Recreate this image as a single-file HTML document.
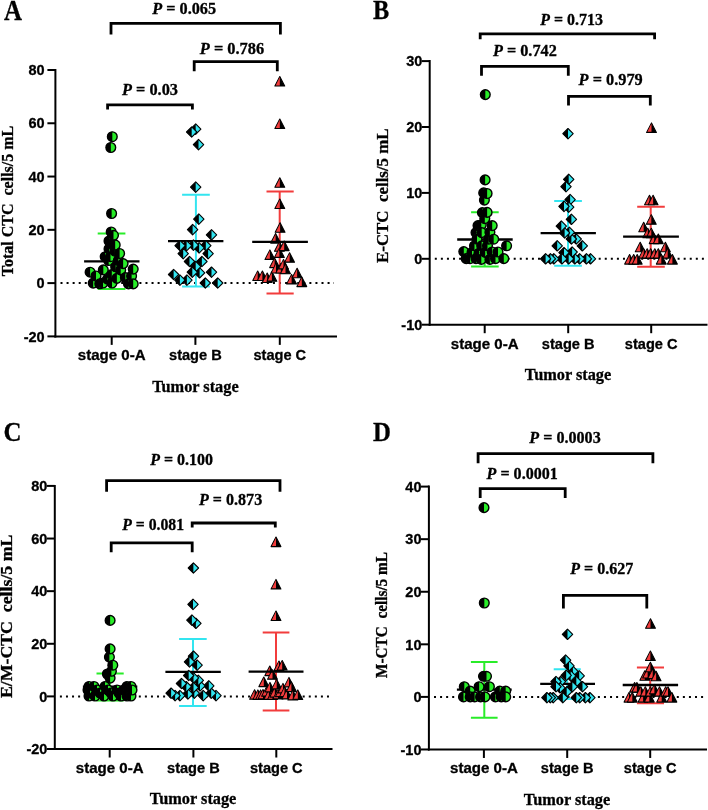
<!DOCTYPE html>
<html><head><meta charset="utf-8"><style>
html,body{margin:0;padding:0;background:#fff;width:708px;height:810px;overflow:hidden}
svg{display:block;will-change:transform}
text{stroke:#000;stroke-width:0.3px;paint-order:stroke}
</style></head><body>
<svg width="708" height="810" viewBox="0 0 708 810">
<rect width="708" height="810" fill="#fff"/>
<line x1="55.4" y1="68.98" x2="55.4" y2="337.38" stroke="#000" stroke-width="2.0"/>
<line x1="47.4" y1="69.98" x2="55.4" y2="69.98" stroke="#000" stroke-width="2.0"/>
<text x="44.7" y="75.18" font-family="Liberation Sans" font-size="14.5" font-weight="bold" text-anchor="end" >80</text>
<line x1="47.4" y1="123.26" x2="55.4" y2="123.26" stroke="#000" stroke-width="2.0"/>
<text x="44.7" y="128.46" font-family="Liberation Sans" font-size="14.5" font-weight="bold" text-anchor="end" >60</text>
<line x1="47.4" y1="176.54" x2="55.4" y2="176.54" stroke="#000" stroke-width="2.0"/>
<text x="44.7" y="181.74" font-family="Liberation Sans" font-size="14.5" font-weight="bold" text-anchor="end" >40</text>
<line x1="47.4" y1="229.82" x2="55.4" y2="229.82" stroke="#000" stroke-width="2.0"/>
<text x="44.7" y="235.02" font-family="Liberation Sans" font-size="14.5" font-weight="bold" text-anchor="end" >20</text>
<line x1="47.4" y1="283.1" x2="55.4" y2="283.1" stroke="#000" stroke-width="2.0"/>
<text x="44.7" y="288.3" font-family="Liberation Sans" font-size="14.5" font-weight="bold" text-anchor="end" >0</text>
<line x1="47.4" y1="336.38" x2="55.4" y2="336.38" stroke="#000" stroke-width="2.0"/>
<text x="44.7" y="341.58" font-family="Liberation Sans" font-size="14.5" font-weight="bold" text-anchor="end" >-20</text>
<line x1="54.4" y1="336.38" x2="337" y2="336.38" stroke="#000" stroke-width="2.0"/>
<line x1="111.7" y1="336.38" x2="111.7" y2="344.88" stroke="#000" stroke-width="2.0"/>
<text x="111.7" y="360.3" font-family="Liberation Sans" font-size="14.3" font-weight="bold" text-anchor="middle" textLength="67.8" lengthAdjust="spacingAndGlyphs" >stage 0-A</text>
<line x1="195.4" y1="336.38" x2="195.4" y2="344.88" stroke="#000" stroke-width="2.0"/>
<text x="195.4" y="360.3" font-family="Liberation Sans" font-size="14.3" font-weight="bold" text-anchor="middle" textLength="52.8" lengthAdjust="spacingAndGlyphs" >stage B</text>
<line x1="279.8" y1="336.38" x2="279.8" y2="344.88" stroke="#000" stroke-width="2.0"/>
<text x="279.8" y="360.3" font-family="Liberation Sans" font-size="14.3" font-weight="bold" text-anchor="middle" textLength="52.7" lengthAdjust="spacingAndGlyphs" >stage C</text>
<line x1="60.5" y1="283.1" x2="334" y2="283.1" stroke="#000" stroke-width="2" stroke-dasharray="2 4.07"/>
<text x="195.4" y="391.8" font-family="Liberation Serif" font-size="16.3" font-weight="bold" text-anchor="middle" textLength="86.5" lengthAdjust="spacingAndGlyphs" >Tumor stage</text>
<text x="0" y="0" transform="translate(12.9,201) rotate(-90)" font-family="Liberation Serif" font-size="16.3" font-weight="bold" text-anchor="middle" textLength="150.6" lengthAdjust="spacingAndGlyphs" xml:space="preserve">Total CTC  cells/5 mL</text>
<text x="4" y="19.7" font-family="Liberation Serif" font-size="28.5" font-weight="bold" textLength="18" lengthAdjust="spacingAndGlyphs">A</text>
<path d="M111,34.6 V23.3 H280.4 V34.6" fill="none" stroke="#000" stroke-width="2.8" stroke-linecap="butt" stroke-linejoin="miter"/>
<text x="152.3" y="13.7" font-family="Liberation Serif" font-size="16.3" font-weight="bold" textLength="63.8" lengthAdjust="spacingAndGlyphs" xml:space="preserve"><tspan font-style="italic">P</tspan> = 0.065</text>
<path d="M194.2,71.3 V61.7 H277.3 V71.3" fill="none" stroke="#000" stroke-width="2.8" stroke-linecap="butt" stroke-linejoin="miter"/>
<text x="199.8" y="53.7" font-family="Liberation Serif" font-size="16.3" font-weight="bold" textLength="64.4" lengthAdjust="spacingAndGlyphs" xml:space="preserve"><tspan font-style="italic">P</tspan> = 0.786</text>
<path d="M107.6,109.5 V104.9 H192.4 V109.5" fill="none" stroke="#000" stroke-width="2.8" stroke-linecap="butt" stroke-linejoin="miter"/>
<text x="122" y="94.6" font-family="Liberation Serif" font-size="16.3" font-weight="bold" textLength="56" lengthAdjust="spacingAndGlyphs" xml:space="preserve"><tspan font-style="italic">P</tspan> = 0.03</text>
<line x1="429.7" y1="60.10" x2="429.7" y2="325.70" stroke="#000" stroke-width="2.0"/>
<line x1="421.7" y1="61.10" x2="429.7" y2="61.10" stroke="#000" stroke-width="2.0"/>
<text x="422.3" y="66.30" font-family="Liberation Sans" font-size="14.5" font-weight="bold" text-anchor="end" >30</text>
<line x1="421.7" y1="127.0" x2="429.7" y2="127.0" stroke="#000" stroke-width="2.0"/>
<text x="422.3" y="132.2" font-family="Liberation Sans" font-size="14.5" font-weight="bold" text-anchor="end" >20</text>
<line x1="421.7" y1="192.9" x2="429.7" y2="192.9" stroke="#000" stroke-width="2.0"/>
<text x="422.3" y="198.1" font-family="Liberation Sans" font-size="14.5" font-weight="bold" text-anchor="end" >10</text>
<line x1="421.7" y1="258.8" x2="429.7" y2="258.8" stroke="#000" stroke-width="2.0"/>
<text x="422.3" y="264.0" font-family="Liberation Sans" font-size="14.5" font-weight="bold" text-anchor="end" >0</text>
<line x1="421.7" y1="324.70" x2="429.7" y2="324.70" stroke="#000" stroke-width="2.0"/>
<text x="422.3" y="329.90" font-family="Liberation Sans" font-size="14.5" font-weight="bold" text-anchor="end" >-10</text>
<line x1="428.7" y1="324.70" x2="707.5" y2="324.70" stroke="#000" stroke-width="2.0"/>
<line x1="484.7" y1="324.70" x2="484.7" y2="333.20" stroke="#000" stroke-width="2.0"/>
<text x="484.7" y="349.2" font-family="Liberation Sans" font-size="14.3" font-weight="bold" text-anchor="middle" textLength="67.8" lengthAdjust="spacingAndGlyphs" >stage 0-A</text>
<line x1="568.2" y1="324.70" x2="568.2" y2="333.20" stroke="#000" stroke-width="2.0"/>
<text x="568.2" y="349.2" font-family="Liberation Sans" font-size="14.3" font-weight="bold" text-anchor="middle" textLength="52.8" lengthAdjust="spacingAndGlyphs" >stage B</text>
<line x1="651.2" y1="324.70" x2="651.2" y2="333.20" stroke="#000" stroke-width="2.0"/>
<text x="651.2" y="349.2" font-family="Liberation Sans" font-size="14.3" font-weight="bold" text-anchor="middle" textLength="52.7" lengthAdjust="spacingAndGlyphs" >stage C</text>
<line x1="434.8" y1="258.8" x2="704.5" y2="258.8" stroke="#000" stroke-width="2" stroke-dasharray="2 4.07"/>
<text x="568" y="380.2" font-family="Liberation Serif" font-size="16.3" font-weight="bold" text-anchor="middle" textLength="86.5" lengthAdjust="spacingAndGlyphs" >Tumor stage</text>
<text x="0" y="0" transform="translate(387.7,195.7) rotate(-90)" font-family="Liberation Serif" font-size="16.3" font-weight="bold" text-anchor="middle" textLength="134.6" lengthAdjust="spacingAndGlyphs" xml:space="preserve">E-CTC  cells/5 mL</text>
<text x="373.1" y="19.1" font-family="Liberation Serif" font-size="27" font-weight="bold" textLength="16.2" lengthAdjust="spacingAndGlyphs">B</text>
<path d="M480.2,39.3 V33.9 H654.6 V39.3" fill="none" stroke="#000" stroke-width="2.8" stroke-linecap="butt" stroke-linejoin="miter"/>
<text x="540.3" y="25.4" font-family="Liberation Serif" font-size="16.3" font-weight="bold" textLength="62.6" lengthAdjust="spacingAndGlyphs" xml:space="preserve"><tspan font-style="italic">P</tspan> = 0.713</text>
<path d="M481.5,75.8 V66.4 H568.3 V75.8" fill="none" stroke="#000" stroke-width="2.8" stroke-linecap="butt" stroke-linejoin="miter"/>
<text x="492.9" y="55.9" font-family="Liberation Serif" font-size="16.3" font-weight="bold" textLength="63.9" lengthAdjust="spacingAndGlyphs" xml:space="preserve"><tspan font-style="italic">P</tspan> = 0.742</text>
<path d="M568.5,105.4 V96.4 H650.3 V105.4" fill="none" stroke="#000" stroke-width="2.8" stroke-linecap="butt" stroke-linejoin="miter"/>
<text x="578.6" y="85.1" font-family="Liberation Serif" font-size="16.3" font-weight="bold" textLength="64.1" lengthAdjust="spacingAndGlyphs" xml:space="preserve"><tspan font-style="italic">P</tspan> = 0.979</text>
<line x1="54.8" y1="484.91" x2="54.8" y2="750.02" stroke="#000" stroke-width="2.0"/>
<line x1="46.8" y1="485.91" x2="54.8" y2="485.91" stroke="#000" stroke-width="2.0"/>
<text x="47.4" y="491.11" font-family="Liberation Sans" font-size="14.5" font-weight="bold" text-anchor="end" >80</text>
<line x1="46.8" y1="538.54" x2="54.8" y2="538.54" stroke="#000" stroke-width="2.0"/>
<text x="47.4" y="543.74" font-family="Liberation Sans" font-size="14.5" font-weight="bold" text-anchor="end" >60</text>
<line x1="46.8" y1="591.16" x2="54.8" y2="591.16" stroke="#000" stroke-width="2.0"/>
<text x="47.4" y="596.36" font-family="Liberation Sans" font-size="14.5" font-weight="bold" text-anchor="end" >40</text>
<line x1="46.8" y1="643.78" x2="54.8" y2="643.78" stroke="#000" stroke-width="2.0"/>
<text x="47.4" y="648.98" font-family="Liberation Sans" font-size="14.5" font-weight="bold" text-anchor="end" >20</text>
<line x1="46.8" y1="696.4" x2="54.8" y2="696.4" stroke="#000" stroke-width="2.0"/>
<text x="47.4" y="701.6" font-family="Liberation Sans" font-size="14.5" font-weight="bold" text-anchor="end" >0</text>
<line x1="46.8" y1="749.02" x2="54.8" y2="749.02" stroke="#000" stroke-width="2.0"/>
<text x="47.4" y="754.22" font-family="Liberation Sans" font-size="14.5" font-weight="bold" text-anchor="end" >-20</text>
<line x1="53.8" y1="749.02" x2="332.5" y2="749.02" stroke="#000" stroke-width="2.0"/>
<line x1="109.7" y1="749.02" x2="109.7" y2="757.52" stroke="#000" stroke-width="2.0"/>
<text x="109.7" y="772.7" font-family="Liberation Sans" font-size="14.3" font-weight="bold" text-anchor="middle" textLength="67.8" lengthAdjust="spacingAndGlyphs" >stage 0-A</text>
<line x1="193.4" y1="749.02" x2="193.4" y2="757.52" stroke="#000" stroke-width="2.0"/>
<text x="193.4" y="772.7" font-family="Liberation Sans" font-size="14.3" font-weight="bold" text-anchor="middle" textLength="52.8" lengthAdjust="spacingAndGlyphs" >stage B</text>
<line x1="276.3" y1="749.02" x2="276.3" y2="757.52" stroke="#000" stroke-width="2.0"/>
<text x="276.3" y="772.7" font-family="Liberation Sans" font-size="14.3" font-weight="bold" text-anchor="middle" textLength="52.7" lengthAdjust="spacingAndGlyphs" >stage C</text>
<line x1="59.9" y1="696.4" x2="329.5" y2="696.4" stroke="#000" stroke-width="2" stroke-dasharray="2 4.07"/>
<text x="193.1" y="804.4" font-family="Liberation Serif" font-size="16.3" font-weight="bold" text-anchor="middle" textLength="86.5" lengthAdjust="spacingAndGlyphs" >Tumor stage</text>
<text x="0" y="0" transform="translate(12.3,616.4) rotate(-90)" font-family="Liberation Serif" font-size="16.3" font-weight="bold" text-anchor="middle" textLength="163.4" lengthAdjust="spacingAndGlyphs" xml:space="preserve">E/M-CTC  cells/5 mL</text>
<text x="3.5" y="441.4" font-family="Liberation Serif" font-size="27" font-weight="bold" textLength="18" lengthAdjust="spacingAndGlyphs">C</text>
<path d="M106.6,491.7 V480.7 H280 V491.7" fill="none" stroke="#000" stroke-width="2.8" stroke-linecap="butt" stroke-linejoin="miter"/>
<text x="150.2" y="464.6" font-family="Liberation Serif" font-size="16.3" font-weight="bold" textLength="62.8" lengthAdjust="spacingAndGlyphs" xml:space="preserve"><tspan font-style="italic">P</tspan> = 0.100</text>
<path d="M192.2,527.5 V523 H275.3 V527.5" fill="none" stroke="#000" stroke-width="2.8" stroke-linecap="butt" stroke-linejoin="miter"/>
<text x="199" y="505.3" font-family="Liberation Serif" font-size="16.3" font-weight="bold" textLength="63.2" lengthAdjust="spacingAndGlyphs" xml:space="preserve"><tspan font-style="italic">P</tspan> = 0.873</text>
<path d="M111.2,552.2 V542.9 H192.2 V552.2" fill="none" stroke="#000" stroke-width="2.8" stroke-linecap="butt" stroke-linejoin="miter"/>
<text x="122.2" y="529.8" font-family="Liberation Serif" font-size="16.3" font-weight="bold" textLength="61.9" lengthAdjust="spacingAndGlyphs" xml:space="preserve"><tspan font-style="italic">P</tspan> = 0.081</text>
<line x1="428.9" y1="485.59" x2="428.9" y2="750.47" stroke="#000" stroke-width="2.0"/>
<line x1="420.9" y1="486.59" x2="428.9" y2="486.59" stroke="#000" stroke-width="2.0"/>
<text x="421.5" y="491.79" font-family="Liberation Sans" font-size="14.5" font-weight="bold" text-anchor="end" >40</text>
<line x1="420.9" y1="539.17" x2="428.9" y2="539.17" stroke="#000" stroke-width="2.0"/>
<text x="421.5" y="544.37" font-family="Liberation Sans" font-size="14.5" font-weight="bold" text-anchor="end" >30</text>
<line x1="420.9" y1="591.75" x2="428.9" y2="591.75" stroke="#000" stroke-width="2.0"/>
<text x="421.5" y="596.95" font-family="Liberation Sans" font-size="14.5" font-weight="bold" text-anchor="end" >20</text>
<line x1="420.9" y1="644.32" x2="428.9" y2="644.32" stroke="#000" stroke-width="2.0"/>
<text x="421.5" y="649.52" font-family="Liberation Sans" font-size="14.5" font-weight="bold" text-anchor="end" >10</text>
<line x1="420.9" y1="696.9" x2="428.9" y2="696.9" stroke="#000" stroke-width="2.0"/>
<text x="421.5" y="702.1" font-family="Liberation Sans" font-size="14.5" font-weight="bold" text-anchor="end" >0</text>
<line x1="420.9" y1="749.47" x2="428.9" y2="749.47" stroke="#000" stroke-width="2.0"/>
<text x="421.5" y="754.67" font-family="Liberation Sans" font-size="14.5" font-weight="bold" text-anchor="end" >-10</text>
<line x1="427.9" y1="749.47" x2="707" y2="749.47" stroke="#000" stroke-width="2.0"/>
<line x1="483.9" y1="749.47" x2="483.9" y2="757.97" stroke="#000" stroke-width="2.0"/>
<text x="483.9" y="773" font-family="Liberation Sans" font-size="14.3" font-weight="bold" text-anchor="middle" textLength="67.8" lengthAdjust="spacingAndGlyphs" >stage 0-A</text>
<line x1="567.2" y1="749.47" x2="567.2" y2="757.97" stroke="#000" stroke-width="2.0"/>
<text x="567.2" y="773" font-family="Liberation Sans" font-size="14.3" font-weight="bold" text-anchor="middle" textLength="52.8" lengthAdjust="spacingAndGlyphs" >stage B</text>
<line x1="650.2" y1="749.47" x2="650.2" y2="757.97" stroke="#000" stroke-width="2.0"/>
<text x="650.2" y="773" font-family="Liberation Sans" font-size="14.3" font-weight="bold" text-anchor="middle" textLength="52.7" lengthAdjust="spacingAndGlyphs" >stage C</text>
<line x1="434.0" y1="696.9" x2="704" y2="696.9" stroke="#000" stroke-width="2" stroke-dasharray="2 4.07"/>
<text x="567" y="805" font-family="Liberation Serif" font-size="16.3" font-weight="bold" text-anchor="middle" textLength="86.5" lengthAdjust="spacingAndGlyphs" >Tumor stage</text>
<text x="0" y="0" transform="translate(387.2,615) rotate(-90)" font-family="Liberation Serif" font-size="16.3" font-weight="bold" text-anchor="middle" textLength="125.9" lengthAdjust="spacingAndGlyphs" xml:space="preserve">M-CTC  cells/5 mL</text>
<text x="373.1" y="441" font-family="Liberation Serif" font-size="27" font-weight="bold" textLength="17.9" lengthAdjust="spacingAndGlyphs">D</text>
<path d="M478.1,463.2 V453.6 H652.9 V463.2" fill="none" stroke="#000" stroke-width="2.8" stroke-linecap="butt" stroke-linejoin="miter"/>
<text x="529.3" y="443.4" font-family="Liberation Serif" font-size="16.3" font-weight="bold" textLength="71.4" lengthAdjust="spacingAndGlyphs" xml:space="preserve"><tspan font-style="italic">P</tspan> = 0.0003</text>
<path d="M480.2,498 V488.6 H565.2 V498" fill="none" stroke="#000" stroke-width="2.8" stroke-linecap="butt" stroke-linejoin="miter"/>
<text x="486.6" y="478.5" font-family="Liberation Serif" font-size="16.3" font-weight="bold" textLength="71.2" lengthAdjust="spacingAndGlyphs" xml:space="preserve"><tspan font-style="italic">P</tspan> = 0.0001</text>
<path d="M563.4,608.5 V595.4 H646.8 V608.5" fill="none" stroke="#000" stroke-width="2.8" stroke-linecap="butt" stroke-linejoin="miter"/>
<text x="570.2" y="574.4" font-family="Liberation Serif" font-size="16.3" font-weight="bold" textLength="63" lengthAdjust="spacingAndGlyphs" xml:space="preserve"><tspan font-style="italic">P</tspan> = 0.627</text>
<path d="M97.7,233.6 H125.4 M111.7,233.6 V289 M97.7,289 H125.4" stroke="#28EC28" stroke-width="2" fill="none"/>
<line x1="84.1" y1="261.3" x2="139.5" y2="261.3" stroke="#000" stroke-width="2.3"/>
<g transform="translate(90.1,272.2)"><circle r="4.85" fill="#28EC28" stroke="#000" stroke-width="1.4"/><path d="M0,-4.9 A4.9,4.9 0 0 0 0,4.9 Z" fill="#000"/></g>
<g transform="translate(93.2,283.1)"><circle r="4.85" fill="#28EC28" stroke="#000" stroke-width="1.4"/><path d="M0,-4.9 A4.9,4.9 0 0 0 0,4.9 Z" fill="#000"/></g>
<g transform="translate(96,276)"><circle r="4.85" fill="#28EC28" stroke="#000" stroke-width="1.4"/><path d="M0,-4.9 A4.9,4.9 0 0 0 0,4.9 Z" fill="#000"/></g>
<g transform="translate(99.8,283.8)"><circle r="4.85" fill="#28EC28" stroke="#000" stroke-width="1.4"/><path d="M0,-4.9 A4.9,4.9 0 0 0 0,4.9 Z" fill="#000"/></g>
<g transform="translate(103,283)"><circle r="4.85" fill="#28EC28" stroke="#000" stroke-width="1.4"/><path d="M0,-4.9 A4.9,4.9 0 0 0 0,4.9 Z" fill="#000"/></g>
<g transform="translate(103.3,269.9)"><circle r="4.85" fill="#28EC28" stroke="#000" stroke-width="1.4"/><path d="M0,-4.9 A4.9,4.9 0 0 0 0,4.9 Z" fill="#000"/></g>
<g transform="translate(105.2,256.7)"><circle r="4.85" fill="#28EC28" stroke="#000" stroke-width="1.4"/><path d="M0,-4.9 A4.9,4.9 0 0 0 0,4.9 Z" fill="#000"/></g>
<g transform="translate(107.5,279.2)"><circle r="4.85" fill="#28EC28" stroke="#000" stroke-width="1.4"/><path d="M0,-4.9 A4.9,4.9 0 0 0 0,4.9 Z" fill="#000"/></g>
<g transform="translate(108.7,260.5)"><circle r="4.85" fill="#28EC28" stroke="#000" stroke-width="1.4"/><path d="M0,-4.9 A4.9,4.9 0 0 0 0,4.9 Z" fill="#000"/></g>
<g transform="translate(109,241)"><circle r="4.85" fill="#28EC28" stroke="#000" stroke-width="1.4"/><path d="M0,-4.9 A4.9,4.9 0 0 0 0,4.9 Z" fill="#000"/></g>
<g transform="translate(109,248.9)"><circle r="4.85" fill="#28EC28" stroke="#000" stroke-width="1.4"/><path d="M0,-4.9 A4.9,4.9 0 0 0 0,4.9 Z" fill="#000"/></g>
<g transform="translate(110.5,256.7)"><circle r="4.85" fill="#28EC28" stroke="#000" stroke-width="1.4"/><path d="M0,-4.9 A4.9,4.9 0 0 0 0,4.9 Z" fill="#000"/></g>
<g transform="translate(110.8,147.5)"><circle r="4.85" fill="#28EC28" stroke="#000" stroke-width="1.4"/><path d="M0,-4.9 A4.9,4.9 0 0 0 0,4.9 Z" fill="#000"/></g>
<g transform="translate(111.2,232)"><circle r="4.85" fill="#28EC28" stroke="#000" stroke-width="1.4"/><path d="M0,-4.9 A4.9,4.9 0 0 0 0,4.9 Z" fill="#000"/></g>
<g transform="translate(111.6,213.5)"><circle r="4.85" fill="#28EC28" stroke="#000" stroke-width="1.4"/><path d="M0,-4.9 A4.9,4.9 0 0 0 0,4.9 Z" fill="#000"/></g>
<g transform="translate(111.8,274.5)"><circle r="4.85" fill="#28EC28" stroke="#000" stroke-width="1.4"/><path d="M0,-4.9 A4.9,4.9 0 0 0 0,4.9 Z" fill="#000"/></g>
<g transform="translate(112,283)"><circle r="4.85" fill="#28EC28" stroke="#000" stroke-width="1.4"/><path d="M0,-4.9 A4.9,4.9 0 0 0 0,4.9 Z" fill="#000"/></g>
<g transform="translate(112.3,136.7)"><circle r="4.85" fill="#28EC28" stroke="#000" stroke-width="1.4"/><path d="M0,-4.9 A4.9,4.9 0 0 0 0,4.9 Z" fill="#000"/></g>
<g transform="translate(113,243.2)"><circle r="4.85" fill="#28EC28" stroke="#000" stroke-width="1.4"/><path d="M0,-4.9 A4.9,4.9 0 0 0 0,4.9 Z" fill="#000"/></g>
<g transform="translate(113.5,235.3)"><circle r="4.85" fill="#28EC28" stroke="#000" stroke-width="1.4"/><path d="M0,-4.9 A4.9,4.9 0 0 0 0,4.9 Z" fill="#000"/></g>
<g transform="translate(113.8,245.5)"><circle r="4.85" fill="#28EC28" stroke="#000" stroke-width="1.4"/><path d="M0,-4.9 A4.9,4.9 0 0 0 0,4.9 Z" fill="#000"/></g>
<g transform="translate(113.8,245)"><circle r="4.85" fill="#28EC28" stroke="#000" stroke-width="1.4"/><path d="M0,-4.9 A4.9,4.9 0 0 0 0,4.9 Z" fill="#000"/></g>
<g transform="translate(114.9,251.2)"><circle r="4.85" fill="#28EC28" stroke="#000" stroke-width="1.4"/><path d="M0,-4.9 A4.9,4.9 0 0 0 0,4.9 Z" fill="#000"/></g>
<g transform="translate(115.2,245)"><circle r="4.85" fill="#28EC28" stroke="#000" stroke-width="1.4"/><path d="M0,-4.9 A4.9,4.9 0 0 0 0,4.9 Z" fill="#000"/></g>
<g transform="translate(115.7,266.8)"><circle r="4.85" fill="#28EC28" stroke="#000" stroke-width="1.4"/><path d="M0,-4.9 A4.9,4.9 0 0 0 0,4.9 Z" fill="#000"/></g>
<g transform="translate(116.9,278.4)"><circle r="4.85" fill="#28EC28" stroke="#000" stroke-width="1.4"/><path d="M0,-4.9 A4.9,4.9 0 0 0 0,4.9 Z" fill="#000"/></g>
<g transform="translate(118.4,260.5)"><circle r="4.85" fill="#28EC28" stroke="#000" stroke-width="1.4"/><path d="M0,-4.9 A4.9,4.9 0 0 0 0,4.9 Z" fill="#000"/></g>
<g transform="translate(119.6,253.5)"><circle r="4.85" fill="#28EC28" stroke="#000" stroke-width="1.4"/><path d="M0,-4.9 A4.9,4.9 0 0 0 0,4.9 Z" fill="#000"/></g>
<g transform="translate(120.7,269.9)"><circle r="4.85" fill="#28EC28" stroke="#000" stroke-width="1.4"/><path d="M0,-4.9 A4.9,4.9 0 0 0 0,4.9 Z" fill="#000"/></g>
<g transform="translate(123.1,263.6)"><circle r="4.85" fill="#28EC28" stroke="#000" stroke-width="1.4"/><path d="M0,-4.9 A4.9,4.9 0 0 0 0,4.9 Z" fill="#000"/></g>
<g transform="translate(125.4,277.6)"><circle r="4.85" fill="#28EC28" stroke="#000" stroke-width="1.4"/><path d="M0,-4.9 A4.9,4.9 0 0 0 0,4.9 Z" fill="#000"/></g>
<g transform="translate(128.5,283.9)"><circle r="4.85" fill="#28EC28" stroke="#000" stroke-width="1.4"/><path d="M0,-4.9 A4.9,4.9 0 0 0 0,4.9 Z" fill="#000"/></g>
<g transform="translate(131.6,276.1)"><circle r="4.85" fill="#28EC28" stroke="#000" stroke-width="1.4"/><path d="M0,-4.9 A4.9,4.9 0 0 0 0,4.9 Z" fill="#000"/></g>
<g transform="translate(133.2,269.1)"><circle r="4.85" fill="#28EC28" stroke="#000" stroke-width="1.4"/><path d="M0,-4.9 A4.9,4.9 0 0 0 0,4.9 Z" fill="#000"/></g>
<g transform="translate(133.2,283.9)"><circle r="4.85" fill="#28EC28" stroke="#000" stroke-width="1.4"/><path d="M0,-4.9 A4.9,4.9 0 0 0 0,4.9 Z" fill="#000"/></g>
<path d="M182.1,194.7 H209.8 M195.9,194.7 V286.6 M182.1,286.6 H209.8" stroke="#33E5F0" stroke-width="2" fill="none"/>
<line x1="168" y1="241.2" x2="223.4" y2="241.2" stroke="#000" stroke-width="2.3"/>
<g transform="translate(217.7,283)"><path d="M0,-5.2 L5.2,0 L0,5.2 L-5.2,0 Z" fill="#33E5F0" stroke="#000" stroke-width="1.1" stroke-linejoin="round"/><path d="M0,-5.2 L-5.2,0 L0,5.2 Z" fill="#000"/></g>
<g transform="translate(211.5,234.9)"><path d="M0,-5.2 L5.2,0 L0,5.2 L-5.2,0 Z" fill="#33E5F0" stroke="#000" stroke-width="1.1" stroke-linejoin="round"/><path d="M0,-5.2 L-5.2,0 L0,5.2 Z" fill="#000"/></g>
<g transform="translate(211.5,272.2)"><path d="M0,-5.2 L5.2,0 L0,5.2 L-5.2,0 Z" fill="#33E5F0" stroke="#000" stroke-width="1.1" stroke-linejoin="round"/><path d="M0,-5.2 L-5.2,0 L0,5.2 Z" fill="#000"/></g>
<g transform="translate(208.1,253.6)"><path d="M0,-5.2 L5.2,0 L0,5.2 L-5.2,0 Z" fill="#33E5F0" stroke="#000" stroke-width="1.1" stroke-linejoin="round"/><path d="M0,-5.2 L-5.2,0 L0,5.2 Z" fill="#000"/></g>
<g transform="translate(205.8,245.7)"><path d="M0,-5.2 L5.2,0 L0,5.2 L-5.2,0 Z" fill="#33E5F0" stroke="#000" stroke-width="1.1" stroke-linejoin="round"/><path d="M0,-5.2 L-5.2,0 L0,5.2 Z" fill="#000"/></g>
<g transform="translate(205.3,283)"><path d="M0,-5.2 L5.2,0 L0,5.2 L-5.2,0 Z" fill="#33E5F0" stroke="#000" stroke-width="1.1" stroke-linejoin="round"/><path d="M0,-5.2 L-5.2,0 L0,5.2 Z" fill="#000"/></g>
<g transform="translate(201.9,261.5)"><path d="M0,-5.2 L5.2,0 L0,5.2 L-5.2,0 Z" fill="#33E5F0" stroke="#000" stroke-width="1.1" stroke-linejoin="round"/><path d="M0,-5.2 L-5.2,0 L0,5.2 Z" fill="#000"/></g>
<g transform="translate(199.6,272.8)"><path d="M0,-5.2 L5.2,0 L0,5.2 L-5.2,0 Z" fill="#33E5F0" stroke="#000" stroke-width="1.1" stroke-linejoin="round"/><path d="M0,-5.2 L-5.2,0 L0,5.2 Z" fill="#000"/></g>
<g transform="translate(199.1,247.9)"><path d="M0,-5.2 L5.2,0 L0,5.2 L-5.2,0 Z" fill="#33E5F0" stroke="#000" stroke-width="1.1" stroke-linejoin="round"/><path d="M0,-5.2 L-5.2,0 L0,5.2 Z" fill="#000"/></g>
<g transform="translate(198.8,219.1)"><path d="M0,-5.2 L5.2,0 L0,5.2 L-5.2,0 Z" fill="#33E5F0" stroke="#000" stroke-width="1.1" stroke-linejoin="round"/><path d="M0,-5.2 L-5.2,0 L0,5.2 Z" fill="#000"/></g>
<g transform="translate(198.5,144.6)"><path d="M0,-5.2 L5.2,0 L0,5.2 L-5.2,0 Z" fill="#33E5F0" stroke="#000" stroke-width="1.1" stroke-linejoin="round"/><path d="M0,-5.2 L-5.2,0 L0,5.2 Z" fill="#000"/></g>
<g transform="translate(195.7,129.1)"><path d="M0,-5.2 L5.2,0 L0,5.2 L-5.2,0 Z" fill="#33E5F0" stroke="#000" stroke-width="1.1" stroke-linejoin="round"/><path d="M0,-5.2 L-5.2,0 L0,5.2 Z" fill="#000"/></g>
<g transform="translate(195.7,187.1)"><path d="M0,-5.2 L5.2,0 L0,5.2 L-5.2,0 Z" fill="#33E5F0" stroke="#000" stroke-width="1.1" stroke-linejoin="round"/><path d="M0,-5.2 L-5.2,0 L0,5.2 Z" fill="#000"/></g>
<g transform="translate(195.7,266.6)"><path d="M0,-5.2 L5.2,0 L0,5.2 L-5.2,0 Z" fill="#33E5F0" stroke="#000" stroke-width="1.1" stroke-linejoin="round"/><path d="M0,-5.2 L-5.2,0 L0,5.2 Z" fill="#000"/></g>
<g transform="translate(193.4,245.1)"><path d="M0,-5.2 L5.2,0 L0,5.2 L-5.2,0 Z" fill="#33E5F0" stroke="#000" stroke-width="1.1" stroke-linejoin="round"/><path d="M0,-5.2 L-5.2,0 L0,5.2 Z" fill="#000"/></g>
<g transform="translate(192.6,229.6)"><path d="M0,-5.2 L5.2,0 L0,5.2 L-5.2,0 Z" fill="#33E5F0" stroke="#000" stroke-width="1.1" stroke-linejoin="round"/><path d="M0,-5.2 L-5.2,0 L0,5.2 Z" fill="#000"/></g>
<g transform="translate(192.3,272.2)"><path d="M0,-5.2 L5.2,0 L0,5.2 L-5.2,0 Z" fill="#33E5F0" stroke="#000" stroke-width="1.1" stroke-linejoin="round"/><path d="M0,-5.2 L-5.2,0 L0,5.2 Z" fill="#000"/></g>
<g transform="translate(191.7,132)"><path d="M0,-5.2 L5.2,0 L0,5.2 L-5.2,0 Z" fill="#33E5F0" stroke="#000" stroke-width="1.1" stroke-linejoin="round"/><path d="M0,-5.2 L-5.2,0 L0,5.2 Z" fill="#000"/></g>
<g transform="translate(189.5,261.5)"><path d="M0,-5.2 L5.2,0 L0,5.2 L-5.2,0 Z" fill="#33E5F0" stroke="#000" stroke-width="1.1" stroke-linejoin="round"/><path d="M0,-5.2 L-5.2,0 L0,5.2 Z" fill="#000"/></g>
<g transform="translate(186.9,280.1)"><path d="M0,-5.2 L5.2,0 L0,5.2 L-5.2,0 Z" fill="#33E5F0" stroke="#000" stroke-width="1.1" stroke-linejoin="round"/><path d="M0,-5.2 L-5.2,0 L0,5.2 Z" fill="#000"/></g>
<g transform="translate(186.6,245.7)"><path d="M0,-5.2 L5.2,0 L0,5.2 L-5.2,0 Z" fill="#33E5F0" stroke="#000" stroke-width="1.1" stroke-linejoin="round"/><path d="M0,-5.2 L-5.2,0 L0,5.2 Z" fill="#000"/></g>
<g transform="translate(183.2,253.6)"><path d="M0,-5.2 L5.2,0 L0,5.2 L-5.2,0 Z" fill="#33E5F0" stroke="#000" stroke-width="1.1" stroke-linejoin="round"/><path d="M0,-5.2 L-5.2,0 L0,5.2 Z" fill="#000"/></g>
<g transform="translate(180.1,245.7)"><path d="M0,-5.2 L5.2,0 L0,5.2 L-5.2,0 Z" fill="#33E5F0" stroke="#000" stroke-width="1.1" stroke-linejoin="round"/><path d="M0,-5.2 L-5.2,0 L0,5.2 Z" fill="#000"/></g>
<g transform="translate(179.9,280.1)"><path d="M0,-5.2 L5.2,0 L0,5.2 L-5.2,0 Z" fill="#33E5F0" stroke="#000" stroke-width="1.1" stroke-linejoin="round"/><path d="M0,-5.2 L-5.2,0 L0,5.2 Z" fill="#000"/></g>
<g transform="translate(173.6,274.5)"><path d="M0,-5.2 L5.2,0 L0,5.2 L-5.2,0 Z" fill="#33E5F0" stroke="#000" stroke-width="1.1" stroke-linejoin="round"/><path d="M0,-5.2 L-5.2,0 L0,5.2 Z" fill="#000"/></g>
<path d="M266.5,191.4 H293.7 M279.7,191.4 V293.5 M266.5,293.5 H293.7" stroke="#F23C3C" stroke-width="2" fill="none"/>
<g transform="translate(257.7,275.6)"><path d="M0,-4.6 L4.9,4.9 L-4.9,4.9 Z" fill="#000" stroke="#000" stroke-width="1.1" stroke-linejoin="round"/><path d="M0,-4 L0,4.3 L-4.1,4.3 Z" fill="#F23C3C"/></g>
<g transform="translate(262.4,275.6)"><path d="M0,-4.6 L4.9,4.9 L-4.9,4.9 Z" fill="#000" stroke="#000" stroke-width="1.1" stroke-linejoin="round"/><path d="M0,-4 L0,4.3 L-4.1,4.3 Z" fill="#F23C3C"/></g>
<g transform="translate(267.2,277.6)"><path d="M0,-4.6 L4.9,4.9 L-4.9,4.9 Z" fill="#000" stroke="#000" stroke-width="1.1" stroke-linejoin="round"/><path d="M0,-4 L0,4.3 L-4.1,4.3 Z" fill="#F23C3C"/></g>
<g transform="translate(269.9,254.5)"><path d="M0,-4.6 L4.9,4.9 L-4.9,4.9 Z" fill="#000" stroke="#000" stroke-width="1.1" stroke-linejoin="round"/><path d="M0,-4 L0,4.3 L-4.1,4.3 Z" fill="#F23C3C"/></g>
<g transform="translate(271.9,276.3)"><path d="M0,-4.6 L4.9,4.9 L-4.9,4.9 Z" fill="#000" stroke="#000" stroke-width="1.1" stroke-linejoin="round"/><path d="M0,-4 L0,4.3 L-4.1,4.3 Z" fill="#F23C3C"/></g>
<g transform="translate(274.6,262.7)"><path d="M0,-4.6 L4.9,4.9 L-4.9,4.9 Z" fill="#000" stroke="#000" stroke-width="1.1" stroke-linejoin="round"/><path d="M0,-4 L0,4.3 L-4.1,4.3 Z" fill="#F23C3C"/></g>
<g transform="translate(275.6,238.2)"><path d="M0,-4.6 L4.9,4.9 L-4.9,4.9 Z" fill="#000" stroke="#000" stroke-width="1.1" stroke-linejoin="round"/><path d="M0,-4 L0,4.3 L-4.1,4.3 Z" fill="#F23C3C"/></g>
<g transform="translate(276,268.1)"><path d="M0,-4.6 L4.9,4.9 L-4.9,4.9 Z" fill="#000" stroke="#000" stroke-width="1.1" stroke-linejoin="round"/><path d="M0,-4 L0,4.3 L-4.1,4.3 Z" fill="#F23C3C"/></g>
<g transform="translate(279.4,246.4)"><path d="M0,-4.6 L4.9,4.9 L-4.9,4.9 Z" fill="#000" stroke="#000" stroke-width="1.1" stroke-linejoin="round"/><path d="M0,-4 L0,4.3 L-4.1,4.3 Z" fill="#F23C3C"/></g>
<g transform="translate(279.4,252.5)"><path d="M0,-4.6 L4.9,4.9 L-4.9,4.9 Z" fill="#000" stroke="#000" stroke-width="1.1" stroke-linejoin="round"/><path d="M0,-4 L0,4.3 L-4.1,4.3 Z" fill="#F23C3C"/></g>
<g transform="translate(279.8,81.1)"><path d="M0,-4.6 L4.9,4.9 L-4.9,4.9 Z" fill="#000" stroke="#000" stroke-width="1.1" stroke-linejoin="round"/><path d="M0,-4 L0,4.3 L-4.1,4.3 Z" fill="#F23C3C"/></g>
<g transform="translate(279.8,123.6)"><path d="M0,-4.6 L4.9,4.9 L-4.9,4.9 Z" fill="#000" stroke="#000" stroke-width="1.1" stroke-linejoin="round"/><path d="M0,-4 L0,4.3 L-4.1,4.3 Z" fill="#F23C3C"/></g>
<g transform="translate(279.8,182.4)"><path d="M0,-4.6 L4.9,4.9 L-4.9,4.9 Z" fill="#000" stroke="#000" stroke-width="1.1" stroke-linejoin="round"/><path d="M0,-4 L0,4.3 L-4.1,4.3 Z" fill="#F23C3C"/></g>
<g transform="translate(279.8,203.6)"><path d="M0,-4.6 L4.9,4.9 L-4.9,4.9 Z" fill="#000" stroke="#000" stroke-width="1.1" stroke-linejoin="round"/><path d="M0,-4 L0,4.3 L-4.1,4.3 Z" fill="#F23C3C"/></g>
<g transform="translate(280.1,227.4)"><path d="M0,-4.6 L4.9,4.9 L-4.9,4.9 Z" fill="#000" stroke="#000" stroke-width="1.1" stroke-linejoin="round"/><path d="M0,-4 L0,4.3 L-4.1,4.3 Z" fill="#F23C3C"/></g>
<g transform="translate(280.8,268.1)"><path d="M0,-4.6 L4.9,4.9 L-4.9,4.9 Z" fill="#000" stroke="#000" stroke-width="1.1" stroke-linejoin="round"/><path d="M0,-4 L0,4.3 L-4.1,4.3 Z" fill="#F23C3C"/></g>
<g transform="translate(283.5,264)"><path d="M0,-4.6 L4.9,4.9 L-4.9,4.9 Z" fill="#000" stroke="#000" stroke-width="1.1" stroke-linejoin="round"/><path d="M0,-4 L0,4.3 L-4.1,4.3 Z" fill="#F23C3C"/></g>
<g transform="translate(284.2,245.7)"><path d="M0,-4.6 L4.9,4.9 L-4.9,4.9 Z" fill="#000" stroke="#000" stroke-width="1.1" stroke-linejoin="round"/><path d="M0,-4 L0,4.3 L-4.1,4.3 Z" fill="#F23C3C"/></g>
<g transform="translate(285.5,268.8)"><path d="M0,-4.6 L4.9,4.9 L-4.9,4.9 Z" fill="#000" stroke="#000" stroke-width="1.1" stroke-linejoin="round"/><path d="M0,-4 L0,4.3 L-4.1,4.3 Z" fill="#F23C3C"/></g>
<g transform="translate(289.6,257.3)"><path d="M0,-4.6 L4.9,4.9 L-4.9,4.9 Z" fill="#000" stroke="#000" stroke-width="1.1" stroke-linejoin="round"/><path d="M0,-4 L0,4.3 L-4.1,4.3 Z" fill="#F23C3C"/></g>
<g transform="translate(291.6,279)"><path d="M0,-4.6 L4.9,4.9 L-4.9,4.9 Z" fill="#000" stroke="#000" stroke-width="1.1" stroke-linejoin="round"/><path d="M0,-4 L0,4.3 L-4.1,4.3 Z" fill="#F23C3C"/></g>
<g transform="translate(297.1,272.9)"><path d="M0,-4.6 L4.9,4.9 L-4.9,4.9 Z" fill="#000" stroke="#000" stroke-width="1.1" stroke-linejoin="round"/><path d="M0,-4 L0,4.3 L-4.1,4.3 Z" fill="#F23C3C"/></g>
<g transform="translate(301.8,281.7)"><path d="M0,-4.6 L4.9,4.9 L-4.9,4.9 Z" fill="#000" stroke="#000" stroke-width="1.1" stroke-linejoin="round"/><path d="M0,-4 L0,4.3 L-4.1,4.3 Z" fill="#F23C3C"/></g>
<line x1="252.2" y1="241.9" x2="307.9" y2="241.9" stroke="#000" stroke-width="2.3"/>
<path d="M471.1,212.3 H498.7 M484.7,212.3 V266.6 M471.1,266.6 H498.7" stroke="#28EC28" stroke-width="2" fill="none"/>
<line x1="457.2" y1="239.5" x2="512.7" y2="239.5" stroke="#000" stroke-width="2.3"/>
<g transform="translate(463.8,251.6)"><circle r="4.85" fill="#28EC28" stroke="#000" stroke-width="1.4"/><path d="M0,-4.9 A4.9,4.9 0 0 0 0,4.9 Z" fill="#000"/></g>
<g transform="translate(466.2,258.6)"><circle r="4.85" fill="#28EC28" stroke="#000" stroke-width="1.4"/><path d="M0,-4.9 A4.9,4.9 0 0 0 0,4.9 Z" fill="#000"/></g>
<g transform="translate(470,258.6)"><circle r="4.85" fill="#28EC28" stroke="#000" stroke-width="1.4"/><path d="M0,-4.9 A4.9,4.9 0 0 0 0,4.9 Z" fill="#000"/></g>
<g transform="translate(472,252.4)"><circle r="4.85" fill="#28EC28" stroke="#000" stroke-width="1.4"/><path d="M0,-4.9 A4.9,4.9 0 0 0 0,4.9 Z" fill="#000"/></g>
<g transform="translate(474.5,245.8)"><circle r="4.85" fill="#28EC28" stroke="#000" stroke-width="1.4"/><path d="M0,-4.9 A4.9,4.9 0 0 0 0,4.9 Z" fill="#000"/></g>
<g transform="translate(476,232.6)"><circle r="4.85" fill="#28EC28" stroke="#000" stroke-width="1.4"/><path d="M0,-4.9 A4.9,4.9 0 0 0 0,4.9 Z" fill="#000"/></g>
<g transform="translate(476,258.6)"><circle r="4.85" fill="#28EC28" stroke="#000" stroke-width="1.4"/><path d="M0,-4.9 A4.9,4.9 0 0 0 0,4.9 Z" fill="#000"/></g>
<g transform="translate(477,239.2)"><circle r="4.85" fill="#28EC28" stroke="#000" stroke-width="1.4"/><path d="M0,-4.9 A4.9,4.9 0 0 0 0,4.9 Z" fill="#000"/></g>
<g transform="translate(478,225.6)"><circle r="4.85" fill="#28EC28" stroke="#000" stroke-width="1.4"/><path d="M0,-4.9 A4.9,4.9 0 0 0 0,4.9 Z" fill="#000"/></g>
<g transform="translate(479,253.2)"><circle r="4.85" fill="#28EC28" stroke="#000" stroke-width="1.4"/><path d="M0,-4.9 A4.9,4.9 0 0 0 0,4.9 Z" fill="#000"/></g>
<g transform="translate(481.3,224.8)"><circle r="4.85" fill="#28EC28" stroke="#000" stroke-width="1.4"/><path d="M0,-4.9 A4.9,4.9 0 0 0 0,4.9 Z" fill="#000"/></g>
<g transform="translate(481.3,259.4)"><circle r="4.85" fill="#28EC28" stroke="#000" stroke-width="1.4"/><path d="M0,-4.9 A4.9,4.9 0 0 0 0,4.9 Z" fill="#000"/></g>
<g transform="translate(481.7,232.6)"><circle r="4.85" fill="#28EC28" stroke="#000" stroke-width="1.4"/><path d="M0,-4.9 A4.9,4.9 0 0 0 0,4.9 Z" fill="#000"/></g>
<g transform="translate(481.7,245.8)"><circle r="4.85" fill="#28EC28" stroke="#000" stroke-width="1.4"/><path d="M0,-4.9 A4.9,4.9 0 0 0 0,4.9 Z" fill="#000"/></g>
<g transform="translate(482.4,212.6)"><circle r="4.85" fill="#28EC28" stroke="#000" stroke-width="1.4"/><path d="M0,-4.9 A4.9,4.9 0 0 0 0,4.9 Z" fill="#000"/></g>
<g transform="translate(483.7,192.9)"><circle r="4.85" fill="#28EC28" stroke="#000" stroke-width="1.4"/><path d="M0,-4.9 A4.9,4.9 0 0 0 0,4.9 Z" fill="#000"/></g>
<g transform="translate(484.4,200.1)"><circle r="4.85" fill="#28EC28" stroke="#000" stroke-width="1.4"/><path d="M0,-4.9 A4.9,4.9 0 0 0 0,4.9 Z" fill="#000"/></g>
<g transform="translate(484.8,218.6)"><circle r="4.85" fill="#28EC28" stroke="#000" stroke-width="1.4"/><path d="M0,-4.9 A4.9,4.9 0 0 0 0,4.9 Z" fill="#000"/></g>
<g transform="translate(485.1,179.9)"><circle r="4.85" fill="#28EC28" stroke="#000" stroke-width="1.4"/><path d="M0,-4.9 A4.9,4.9 0 0 0 0,4.9 Z" fill="#000"/></g>
<g transform="translate(485.2,252.4)"><circle r="4.85" fill="#28EC28" stroke="#000" stroke-width="1.4"/><path d="M0,-4.9 A4.9,4.9 0 0 0 0,4.9 Z" fill="#000"/></g>
<g transform="translate(485.3,94.6)"><circle r="4.85" fill="#28EC28" stroke="#000" stroke-width="1.4"/><path d="M0,-4.9 A4.9,4.9 0 0 0 0,4.9 Z" fill="#000"/></g>
<g transform="translate(487.1,193.5)"><circle r="4.85" fill="#28EC28" stroke="#000" stroke-width="1.4"/><path d="M0,-4.9 A4.9,4.9 0 0 0 0,4.9 Z" fill="#000"/></g>
<g transform="translate(487.1,212.4)"><circle r="4.85" fill="#28EC28" stroke="#000" stroke-width="1.4"/><path d="M0,-4.9 A4.9,4.9 0 0 0 0,4.9 Z" fill="#000"/></g>
<g transform="translate(487.5,245.8)"><circle r="4.85" fill="#28EC28" stroke="#000" stroke-width="1.4"/><path d="M0,-4.9 A4.9,4.9 0 0 0 0,4.9 Z" fill="#000"/></g>
<g transform="translate(488.7,239.2)"><circle r="4.85" fill="#28EC28" stroke="#000" stroke-width="1.4"/><path d="M0,-4.9 A4.9,4.9 0 0 0 0,4.9 Z" fill="#000"/></g>
<g transform="translate(489.9,232.2)"><circle r="4.85" fill="#28EC28" stroke="#000" stroke-width="1.4"/><path d="M0,-4.9 A4.9,4.9 0 0 0 0,4.9 Z" fill="#000"/></g>
<g transform="translate(489.9,259.4)"><circle r="4.85" fill="#28EC28" stroke="#000" stroke-width="1.4"/><path d="M0,-4.9 A4.9,4.9 0 0 0 0,4.9 Z" fill="#000"/></g>
<g transform="translate(492.2,225.6)"><circle r="4.85" fill="#28EC28" stroke="#000" stroke-width="1.4"/><path d="M0,-4.9 A4.9,4.9 0 0 0 0,4.9 Z" fill="#000"/></g>
<g transform="translate(492.2,252)"><circle r="4.85" fill="#28EC28" stroke="#000" stroke-width="1.4"/><path d="M0,-4.9 A4.9,4.9 0 0 0 0,4.9 Z" fill="#000"/></g>
<g transform="translate(493.7,239.2)"><circle r="4.85" fill="#28EC28" stroke="#000" stroke-width="1.4"/><path d="M0,-4.9 A4.9,4.9 0 0 0 0,4.9 Z" fill="#000"/></g>
<g transform="translate(495.5,258.6)"><circle r="4.85" fill="#28EC28" stroke="#000" stroke-width="1.4"/><path d="M0,-4.9 A4.9,4.9 0 0 0 0,4.9 Z" fill="#000"/></g>
<g transform="translate(498,252)"><circle r="4.85" fill="#28EC28" stroke="#000" stroke-width="1.4"/><path d="M0,-4.9 A4.9,4.9 0 0 0 0,4.9 Z" fill="#000"/></g>
<g transform="translate(503.8,258.6)"><circle r="4.85" fill="#28EC28" stroke="#000" stroke-width="1.4"/><path d="M0,-4.9 A4.9,4.9 0 0 0 0,4.9 Z" fill="#000"/></g>
<g transform="translate(506.6,245.8)"><circle r="4.85" fill="#28EC28" stroke="#000" stroke-width="1.4"/><path d="M0,-4.9 A4.9,4.9 0 0 0 0,4.9 Z" fill="#000"/></g>
<path d="M554.2,201 H581.9 M568,201 V265.8 M554.2,265.8 H581.9" stroke="#33E5F0" stroke-width="2" fill="none"/>
<line x1="540.6" y1="233.2" x2="595.9" y2="233.2" stroke="#000" stroke-width="2.3"/>
<g transform="translate(590.5,258.8)"><path d="M0,-5.2 L5.2,0 L0,5.2 L-5.2,0 Z" fill="#33E5F0" stroke="#000" stroke-width="1.1" stroke-linejoin="round"/><path d="M0,-5.2 L-5.2,0 L0,5.2 Z" fill="#000"/></g>
<g transform="translate(586.4,258.8)"><path d="M0,-5.2 L5.2,0 L0,5.2 L-5.2,0 Z" fill="#33E5F0" stroke="#000" stroke-width="1.1" stroke-linejoin="round"/><path d="M0,-5.2 L-5.2,0 L0,5.2 Z" fill="#000"/></g>
<g transform="translate(582.3,245.8)"><path d="M0,-5.2 L5.2,0 L0,5.2 L-5.2,0 Z" fill="#33E5F0" stroke="#000" stroke-width="1.1" stroke-linejoin="round"/><path d="M0,-5.2 L-5.2,0 L0,5.2 Z" fill="#000"/></g>
<g transform="translate(579.6,258.8)"><path d="M0,-5.2 L5.2,0 L0,5.2 L-5.2,0 Z" fill="#33E5F0" stroke="#000" stroke-width="1.1" stroke-linejoin="round"/><path d="M0,-5.2 L-5.2,0 L0,5.2 Z" fill="#000"/></g>
<g transform="translate(576.2,239)"><path d="M0,-5.2 L5.2,0 L0,5.2 L-5.2,0 Z" fill="#33E5F0" stroke="#000" stroke-width="1.1" stroke-linejoin="round"/><path d="M0,-5.2 L-5.2,0 L0,5.2 Z" fill="#000"/></g>
<g transform="translate(574.8,258.8)"><path d="M0,-5.2 L5.2,0 L0,5.2 L-5.2,0 Z" fill="#33E5F0" stroke="#000" stroke-width="1.1" stroke-linejoin="round"/><path d="M0,-5.2 L-5.2,0 L0,5.2 Z" fill="#000"/></g>
<g transform="translate(572.1,252)"><path d="M0,-5.2 L5.2,0 L0,5.2 L-5.2,0 Z" fill="#33E5F0" stroke="#000" stroke-width="1.1" stroke-linejoin="round"/><path d="M0,-5.2 L-5.2,0 L0,5.2 Z" fill="#000"/></g>
<g transform="translate(571.4,219.3)"><path d="M0,-5.2 L5.2,0 L0,5.2 L-5.2,0 Z" fill="#33E5F0" stroke="#000" stroke-width="1.1" stroke-linejoin="round"/><path d="M0,-5.2 L-5.2,0 L0,5.2 Z" fill="#000"/></g>
<g transform="translate(571.4,239)"><path d="M0,-5.2 L5.2,0 L0,5.2 L-5.2,0 Z" fill="#33E5F0" stroke="#000" stroke-width="1.1" stroke-linejoin="round"/><path d="M0,-5.2 L-5.2,0 L0,5.2 Z" fill="#000"/></g>
<g transform="translate(570.1,199.6)"><path d="M0,-5.2 L5.2,0 L0,5.2 L-5.2,0 Z" fill="#33E5F0" stroke="#000" stroke-width="1.1" stroke-linejoin="round"/><path d="M0,-5.2 L-5.2,0 L0,5.2 Z" fill="#000"/></g>
<g transform="translate(569.4,232.3)"><path d="M0,-5.2 L5.2,0 L0,5.2 L-5.2,0 Z" fill="#33E5F0" stroke="#000" stroke-width="1.1" stroke-linejoin="round"/><path d="M0,-5.2 L-5.2,0 L0,5.2 Z" fill="#000"/></g>
<g transform="translate(568.7,179.3)"><path d="M0,-5.2 L5.2,0 L0,5.2 L-5.2,0 Z" fill="#33E5F0" stroke="#000" stroke-width="1.1" stroke-linejoin="round"/><path d="M0,-5.2 L-5.2,0 L0,5.2 Z" fill="#000"/></g>
<g transform="translate(568.7,207.1)"><path d="M0,-5.2 L5.2,0 L0,5.2 L-5.2,0 Z" fill="#33E5F0" stroke="#000" stroke-width="1.1" stroke-linejoin="round"/><path d="M0,-5.2 L-5.2,0 L0,5.2 Z" fill="#000"/></g>
<g transform="translate(568.7,258.8)"><path d="M0,-5.2 L5.2,0 L0,5.2 L-5.2,0 Z" fill="#33E5F0" stroke="#000" stroke-width="1.1" stroke-linejoin="round"/><path d="M0,-5.2 L-5.2,0 L0,5.2 Z" fill="#000"/></g>
<g transform="translate(568,133.7)"><path d="M0,-5.2 L5.2,0 L0,5.2 L-5.2,0 Z" fill="#33E5F0" stroke="#000" stroke-width="1.1" stroke-linejoin="round"/><path d="M0,-5.2 L-5.2,0 L0,5.2 Z" fill="#000"/></g>
<g transform="translate(566,186.7)"><path d="M0,-5.2 L5.2,0 L0,5.2 L-5.2,0 Z" fill="#33E5F0" stroke="#000" stroke-width="1.1" stroke-linejoin="round"/><path d="M0,-5.2 L-5.2,0 L0,5.2 Z" fill="#000"/></g>
<g transform="translate(564.6,232.9)"><path d="M0,-5.2 L5.2,0 L0,5.2 L-5.2,0 Z" fill="#33E5F0" stroke="#000" stroke-width="1.1" stroke-linejoin="round"/><path d="M0,-5.2 L-5.2,0 L0,5.2 Z" fill="#000"/></g>
<g transform="translate(564,206.4)"><path d="M0,-5.2 L5.2,0 L0,5.2 L-5.2,0 Z" fill="#33E5F0" stroke="#000" stroke-width="1.1" stroke-linejoin="round"/><path d="M0,-5.2 L-5.2,0 L0,5.2 Z" fill="#000"/></g>
<g transform="translate(564,252.6)"><path d="M0,-5.2 L5.2,0 L0,5.2 L-5.2,0 Z" fill="#33E5F0" stroke="#000" stroke-width="1.1" stroke-linejoin="round"/><path d="M0,-5.2 L-5.2,0 L0,5.2 Z" fill="#000"/></g>
<g transform="translate(561.9,258.8)"><path d="M0,-5.2 L5.2,0 L0,5.2 L-5.2,0 Z" fill="#33E5F0" stroke="#000" stroke-width="1.1" stroke-linejoin="round"/><path d="M0,-5.2 L-5.2,0 L0,5.2 Z" fill="#000"/></g>
<g transform="translate(561.3,226.1)"><path d="M0,-5.2 L5.2,0 L0,5.2 L-5.2,0 Z" fill="#33E5F0" stroke="#000" stroke-width="1.1" stroke-linejoin="round"/><path d="M0,-5.2 L-5.2,0 L0,5.2 Z" fill="#000"/></g>
<g transform="translate(557.2,245.8)"><path d="M0,-5.2 L5.2,0 L0,5.2 L-5.2,0 Z" fill="#33E5F0" stroke="#000" stroke-width="1.1" stroke-linejoin="round"/><path d="M0,-5.2 L-5.2,0 L0,5.2 Z" fill="#000"/></g>
<g transform="translate(553.8,258.8)"><path d="M0,-5.2 L5.2,0 L0,5.2 L-5.2,0 Z" fill="#33E5F0" stroke="#000" stroke-width="1.1" stroke-linejoin="round"/><path d="M0,-5.2 L-5.2,0 L0,5.2 Z" fill="#000"/></g>
<g transform="translate(550.4,258.8)"><path d="M0,-5.2 L5.2,0 L0,5.2 L-5.2,0 Z" fill="#33E5F0" stroke="#000" stroke-width="1.1" stroke-linejoin="round"/><path d="M0,-5.2 L-5.2,0 L0,5.2 Z" fill="#000"/></g>
<g transform="translate(545.6,258.8)"><path d="M0,-5.2 L5.2,0 L0,5.2 L-5.2,0 Z" fill="#33E5F0" stroke="#000" stroke-width="1.1" stroke-linejoin="round"/><path d="M0,-5.2 L-5.2,0 L0,5.2 Z" fill="#000"/></g>
<path d="M637.2,206.7 H664.8 M650.7,206.7 V266.8 M637.2,266.8 H664.8" stroke="#F23C3C" stroke-width="2" fill="none"/>
<g transform="translate(629.6,259.2)"><path d="M0,-4.6 L4.9,4.9 L-4.9,4.9 Z" fill="#000" stroke="#000" stroke-width="1.1" stroke-linejoin="round"/><path d="M0,-4 L0,4.3 L-4.1,4.3 Z" fill="#F23C3C"/></g>
<g transform="translate(633.7,259.2)"><path d="M0,-4.6 L4.9,4.9 L-4.9,4.9 Z" fill="#000" stroke="#000" stroke-width="1.1" stroke-linejoin="round"/><path d="M0,-4 L0,4.3 L-4.1,4.3 Z" fill="#F23C3C"/></g>
<g transform="translate(637.2,259.2)"><path d="M0,-4.6 L4.9,4.9 L-4.9,4.9 Z" fill="#000" stroke="#000" stroke-width="1.1" stroke-linejoin="round"/><path d="M0,-4 L0,4.3 L-4.1,4.3 Z" fill="#F23C3C"/></g>
<g transform="translate(640.2,246.9)"><path d="M0,-4.6 L4.9,4.9 L-4.9,4.9 Z" fill="#000" stroke="#000" stroke-width="1.1" stroke-linejoin="round"/><path d="M0,-4 L0,4.3 L-4.1,4.3 Z" fill="#F23C3C"/></g>
<g transform="translate(643.7,226.9)"><path d="M0,-4.6 L4.9,4.9 L-4.9,4.9 Z" fill="#000" stroke="#000" stroke-width="1.1" stroke-linejoin="round"/><path d="M0,-4 L0,4.3 L-4.1,4.3 Z" fill="#F23C3C"/></g>
<g transform="translate(643.7,253.3)"><path d="M0,-4.6 L4.9,4.9 L-4.9,4.9 Z" fill="#000" stroke="#000" stroke-width="1.1" stroke-linejoin="round"/><path d="M0,-4 L0,4.3 L-4.1,4.3 Z" fill="#F23C3C"/></g>
<g transform="translate(647.2,253.3)"><path d="M0,-4.6 L4.9,4.9 L-4.9,4.9 Z" fill="#000" stroke="#000" stroke-width="1.1" stroke-linejoin="round"/><path d="M0,-4 L0,4.3 L-4.1,4.3 Z" fill="#F23C3C"/></g>
<g transform="translate(647.8,232.8)"><path d="M0,-4.6 L4.9,4.9 L-4.9,4.9 Z" fill="#000" stroke="#000" stroke-width="1.1" stroke-linejoin="round"/><path d="M0,-4 L0,4.3 L-4.1,4.3 Z" fill="#F23C3C"/></g>
<g transform="translate(649.5,199.9)"><path d="M0,-4.6 L4.9,4.9 L-4.9,4.9 Z" fill="#000" stroke="#000" stroke-width="1.1" stroke-linejoin="round"/><path d="M0,-4 L0,4.3 L-4.1,4.3 Z" fill="#F23C3C"/></g>
<g transform="translate(650.7,253.3)"><path d="M0,-4.6 L4.9,4.9 L-4.9,4.9 Z" fill="#000" stroke="#000" stroke-width="1.1" stroke-linejoin="round"/><path d="M0,-4 L0,4.3 L-4.1,4.3 Z" fill="#F23C3C"/></g>
<g transform="translate(651.3,219.3)"><path d="M0,-4.6 L4.9,4.9 L-4.9,4.9 Z" fill="#000" stroke="#000" stroke-width="1.1" stroke-linejoin="round"/><path d="M0,-4 L0,4.3 L-4.1,4.3 Z" fill="#F23C3C"/></g>
<g transform="translate(651.3,232.8)"><path d="M0,-4.6 L4.9,4.9 L-4.9,4.9 Z" fill="#000" stroke="#000" stroke-width="1.1" stroke-linejoin="round"/><path d="M0,-4 L0,4.3 L-4.1,4.3 Z" fill="#F23C3C"/></g>
<g transform="translate(651.5,127.5)"><path d="M0,-4.6 L4.9,4.9 L-4.9,4.9 Z" fill="#000" stroke="#000" stroke-width="1.1" stroke-linejoin="round"/><path d="M0,-4 L0,4.3 L-4.1,4.3 Z" fill="#F23C3C"/></g>
<g transform="translate(653.1,199.9)"><path d="M0,-4.6 L4.9,4.9 L-4.9,4.9 Z" fill="#000" stroke="#000" stroke-width="1.1" stroke-linejoin="round"/><path d="M0,-4 L0,4.3 L-4.1,4.3 Z" fill="#F23C3C"/></g>
<g transform="translate(654.2,238.7)"><path d="M0,-4.6 L4.9,4.9 L-4.9,4.9 Z" fill="#000" stroke="#000" stroke-width="1.1" stroke-linejoin="round"/><path d="M0,-4 L0,4.3 L-4.1,4.3 Z" fill="#F23C3C"/></g>
<g transform="translate(654.8,253.3)"><path d="M0,-4.6 L4.9,4.9 L-4.9,4.9 Z" fill="#000" stroke="#000" stroke-width="1.1" stroke-linejoin="round"/><path d="M0,-4 L0,4.3 L-4.1,4.3 Z" fill="#F23C3C"/></g>
<g transform="translate(658.3,238.7)"><path d="M0,-4.6 L4.9,4.9 L-4.9,4.9 Z" fill="#000" stroke="#000" stroke-width="1.1" stroke-linejoin="round"/><path d="M0,-4 L0,4.3 L-4.1,4.3 Z" fill="#F23C3C"/></g>
<g transform="translate(658.3,253.3)"><path d="M0,-4.6 L4.9,4.9 L-4.9,4.9 Z" fill="#000" stroke="#000" stroke-width="1.1" stroke-linejoin="round"/><path d="M0,-4 L0,4.3 L-4.1,4.3 Z" fill="#F23C3C"/></g>
<g transform="translate(661.3,259.2)"><path d="M0,-4.6 L4.9,4.9 L-4.9,4.9 Z" fill="#000" stroke="#000" stroke-width="1.1" stroke-linejoin="round"/><path d="M0,-4 L0,4.3 L-4.1,4.3 Z" fill="#F23C3C"/></g>
<g transform="translate(665.4,246.9)"><path d="M0,-4.6 L4.9,4.9 L-4.9,4.9 Z" fill="#000" stroke="#000" stroke-width="1.1" stroke-linejoin="round"/><path d="M0,-4 L0,4.3 L-4.1,4.3 Z" fill="#F23C3C"/></g>
<g transform="translate(667.7,253.3)"><path d="M0,-4.6 L4.9,4.9 L-4.9,4.9 Z" fill="#000" stroke="#000" stroke-width="1.1" stroke-linejoin="round"/><path d="M0,-4 L0,4.3 L-4.1,4.3 Z" fill="#F23C3C"/></g>
<g transform="translate(672.4,259.2)"><path d="M0,-4.6 L4.9,4.9 L-4.9,4.9 Z" fill="#000" stroke="#000" stroke-width="1.1" stroke-linejoin="round"/><path d="M0,-4 L0,4.3 L-4.1,4.3 Z" fill="#F23C3C"/></g>
<line x1="623.1" y1="236.7" x2="678.9" y2="236.7" stroke="#000" stroke-width="2.3"/>
<path d="M96.5,673.6 H123.7 M109.7,673.6 V700.5 M96.5,700.5 H123.7" stroke="#28EC28" stroke-width="2" fill="none"/>
<line x1="82.9" y1="686.7" x2="137.3" y2="686.7" stroke="#000" stroke-width="2.3"/>
<g transform="translate(88,690)"><circle r="4.85" fill="#28EC28" stroke="#000" stroke-width="1.4"/><path d="M0,-4.9 A4.9,4.9 0 0 0 0,4.9 Z" fill="#000"/></g>
<g transform="translate(89,686.5)"><circle r="4.85" fill="#28EC28" stroke="#000" stroke-width="1.4"/><path d="M0,-4.9 A4.9,4.9 0 0 0 0,4.9 Z" fill="#000"/></g>
<g transform="translate(89,696)"><circle r="4.85" fill="#28EC28" stroke="#000" stroke-width="1.4"/><path d="M0,-4.9 A4.9,4.9 0 0 0 0,4.9 Z" fill="#000"/></g>
<g transform="translate(90,693)"><circle r="4.85" fill="#28EC28" stroke="#000" stroke-width="1.4"/><path d="M0,-4.9 A4.9,4.9 0 0 0 0,4.9 Z" fill="#000"/></g>
<g transform="translate(94,686.5)"><circle r="4.85" fill="#28EC28" stroke="#000" stroke-width="1.4"/><path d="M0,-4.9 A4.9,4.9 0 0 0 0,4.9 Z" fill="#000"/></g>
<g transform="translate(95,696)"><circle r="4.85" fill="#28EC28" stroke="#000" stroke-width="1.4"/><path d="M0,-4.9 A4.9,4.9 0 0 0 0,4.9 Z" fill="#000"/></g>
<g transform="translate(97,690)"><circle r="4.85" fill="#28EC28" stroke="#000" stroke-width="1.4"/><path d="M0,-4.9 A4.9,4.9 0 0 0 0,4.9 Z" fill="#000"/></g>
<g transform="translate(100,693)"><circle r="4.85" fill="#28EC28" stroke="#000" stroke-width="1.4"/><path d="M0,-4.9 A4.9,4.9 0 0 0 0,4.9 Z" fill="#000"/></g>
<g transform="translate(104,696)"><circle r="4.85" fill="#28EC28" stroke="#000" stroke-width="1.4"/><path d="M0,-4.9 A4.9,4.9 0 0 0 0,4.9 Z" fill="#000"/></g>
<g transform="translate(105,686.5)"><circle r="4.85" fill="#28EC28" stroke="#000" stroke-width="1.4"/><path d="M0,-4.9 A4.9,4.9 0 0 0 0,4.9 Z" fill="#000"/></g>
<g transform="translate(107.4,674)"><circle r="4.85" fill="#28EC28" stroke="#000" stroke-width="1.4"/><path d="M0,-4.9 A4.9,4.9 0 0 0 0,4.9 Z" fill="#000"/></g>
<g transform="translate(108,690)"><circle r="4.85" fill="#28EC28" stroke="#000" stroke-width="1.4"/><path d="M0,-4.9 A4.9,4.9 0 0 0 0,4.9 Z" fill="#000"/></g>
<g transform="translate(109.4,657.1)"><circle r="4.85" fill="#28EC28" stroke="#000" stroke-width="1.4"/><path d="M0,-4.9 A4.9,4.9 0 0 0 0,4.9 Z" fill="#000"/></g>
<g transform="translate(110.1,620.4)"><circle r="4.85" fill="#28EC28" stroke="#000" stroke-width="1.4"/><path d="M0,-4.9 A4.9,4.9 0 0 0 0,4.9 Z" fill="#000"/></g>
<g transform="translate(110.1,648.9)"><circle r="4.85" fill="#28EC28" stroke="#000" stroke-width="1.4"/><path d="M0,-4.9 A4.9,4.9 0 0 0 0,4.9 Z" fill="#000"/></g>
<g transform="translate(110.1,678.1)"><circle r="4.85" fill="#28EC28" stroke="#000" stroke-width="1.4"/><path d="M0,-4.9 A4.9,4.9 0 0 0 0,4.9 Z" fill="#000"/></g>
<g transform="translate(111,693)"><circle r="4.85" fill="#28EC28" stroke="#000" stroke-width="1.4"/><path d="M0,-4.9 A4.9,4.9 0 0 0 0,4.9 Z" fill="#000"/></g>
<g transform="translate(111.4,671.3)"><circle r="4.85" fill="#28EC28" stroke="#000" stroke-width="1.4"/><path d="M0,-4.9 A4.9,4.9 0 0 0 0,4.9 Z" fill="#000"/></g>
<g transform="translate(112.8,665.2)"><circle r="4.85" fill="#28EC28" stroke="#000" stroke-width="1.4"/><path d="M0,-4.9 A4.9,4.9 0 0 0 0,4.9 Z" fill="#000"/></g>
<g transform="translate(113,696)"><circle r="4.85" fill="#28EC28" stroke="#000" stroke-width="1.4"/><path d="M0,-4.9 A4.9,4.9 0 0 0 0,4.9 Z" fill="#000"/></g>
<g transform="translate(117,690)"><circle r="4.85" fill="#28EC28" stroke="#000" stroke-width="1.4"/><path d="M0,-4.9 A4.9,4.9 0 0 0 0,4.9 Z" fill="#000"/></g>
<g transform="translate(119,693)"><circle r="4.85" fill="#28EC28" stroke="#000" stroke-width="1.4"/><path d="M0,-4.9 A4.9,4.9 0 0 0 0,4.9 Z" fill="#000"/></g>
<g transform="translate(121,696)"><circle r="4.85" fill="#28EC28" stroke="#000" stroke-width="1.4"/><path d="M0,-4.9 A4.9,4.9 0 0 0 0,4.9 Z" fill="#000"/></g>
<g transform="translate(124,690)"><circle r="4.85" fill="#28EC28" stroke="#000" stroke-width="1.4"/><path d="M0,-4.9 A4.9,4.9 0 0 0 0,4.9 Z" fill="#000"/></g>
<g transform="translate(127,686.5)"><circle r="4.85" fill="#28EC28" stroke="#000" stroke-width="1.4"/><path d="M0,-4.9 A4.9,4.9 0 0 0 0,4.9 Z" fill="#000"/></g>
<g transform="translate(127,696)"><circle r="4.85" fill="#28EC28" stroke="#000" stroke-width="1.4"/><path d="M0,-4.9 A4.9,4.9 0 0 0 0,4.9 Z" fill="#000"/></g>
<g transform="translate(128,693)"><circle r="4.85" fill="#28EC28" stroke="#000" stroke-width="1.4"/><path d="M0,-4.9 A4.9,4.9 0 0 0 0,4.9 Z" fill="#000"/></g>
<g transform="translate(131,686.5)"><circle r="4.85" fill="#28EC28" stroke="#000" stroke-width="1.4"/><path d="M0,-4.9 A4.9,4.9 0 0 0 0,4.9 Z" fill="#000"/></g>
<g transform="translate(131,696)"><circle r="4.85" fill="#28EC28" stroke="#000" stroke-width="1.4"/><path d="M0,-4.9 A4.9,4.9 0 0 0 0,4.9 Z" fill="#000"/></g>
<g transform="translate(132,690)"><circle r="4.85" fill="#28EC28" stroke="#000" stroke-width="1.4"/><path d="M0,-4.9 A4.9,4.9 0 0 0 0,4.9 Z" fill="#000"/></g>
<path d="M179.1,638.9 H206.7 M193,638.9 V706 M179.1,706 H206.7" stroke="#33E5F0" stroke-width="2" fill="none"/>
<line x1="165.4" y1="671.8" x2="220.8" y2="671.8" stroke="#000" stroke-width="2.3"/>
<g transform="translate(216,695.6)"><path d="M0,-5.2 L5.2,0 L0,5.2 L-5.2,0 Z" fill="#33E5F0" stroke="#000" stroke-width="1.1" stroke-linejoin="round"/><path d="M0,-5.2 L-5.2,0 L0,5.2 Z" fill="#000"/></g>
<g transform="translate(211.2,693.2)"><path d="M0,-5.2 L5.2,0 L0,5.2 L-5.2,0 Z" fill="#33E5F0" stroke="#000" stroke-width="1.1" stroke-linejoin="round"/><path d="M0,-5.2 L-5.2,0 L0,5.2 Z" fill="#000"/></g>
<g transform="translate(208.8,685.9)"><path d="M0,-5.2 L5.2,0 L0,5.2 L-5.2,0 Z" fill="#33E5F0" stroke="#000" stroke-width="1.1" stroke-linejoin="round"/><path d="M0,-5.2 L-5.2,0 L0,5.2 Z" fill="#000"/></g>
<g transform="translate(203.2,695.6)"><path d="M0,-5.2 L5.2,0 L0,5.2 L-5.2,0 Z" fill="#33E5F0" stroke="#000" stroke-width="1.1" stroke-linejoin="round"/><path d="M0,-5.2 L-5.2,0 L0,5.2 Z" fill="#000"/></g>
<g transform="translate(200,685.9)"><path d="M0,-5.2 L5.2,0 L0,5.2 L-5.2,0 Z" fill="#33E5F0" stroke="#000" stroke-width="1.1" stroke-linejoin="round"/><path d="M0,-5.2 L-5.2,0 L0,5.2 Z" fill="#000"/></g>
<g transform="translate(198.3,680.3)"><path d="M0,-5.2 L5.2,0 L0,5.2 L-5.2,0 Z" fill="#33E5F0" stroke="#000" stroke-width="1.1" stroke-linejoin="round"/><path d="M0,-5.2 L-5.2,0 L0,5.2 Z" fill="#000"/></g>
<g transform="translate(197.1,665.1)"><path d="M0,-5.2 L5.2,0 L0,5.2 L-5.2,0 Z" fill="#33E5F0" stroke="#000" stroke-width="1.1" stroke-linejoin="round"/><path d="M0,-5.2 L-5.2,0 L0,5.2 Z" fill="#000"/></g>
<g transform="translate(195.9,623.3)"><path d="M0,-5.2 L5.2,0 L0,5.2 L-5.2,0 Z" fill="#33E5F0" stroke="#000" stroke-width="1.1" stroke-linejoin="round"/><path d="M0,-5.2 L-5.2,0 L0,5.2 Z" fill="#000"/></g>
<g transform="translate(194.3,693.2)"><path d="M0,-5.2 L5.2,0 L0,5.2 L-5.2,0 Z" fill="#33E5F0" stroke="#000" stroke-width="1.1" stroke-linejoin="round"/><path d="M0,-5.2 L-5.2,0 L0,5.2 Z" fill="#000"/></g>
<g transform="translate(193.5,656.2)"><path d="M0,-5.2 L5.2,0 L0,5.2 L-5.2,0 Z" fill="#33E5F0" stroke="#000" stroke-width="1.1" stroke-linejoin="round"/><path d="M0,-5.2 L-5.2,0 L0,5.2 Z" fill="#000"/></g>
<g transform="translate(193.5,677.9)"><path d="M0,-5.2 L5.2,0 L0,5.2 L-5.2,0 Z" fill="#33E5F0" stroke="#000" stroke-width="1.1" stroke-linejoin="round"/><path d="M0,-5.2 L-5.2,0 L0,5.2 Z" fill="#000"/></g>
<g transform="translate(193.5,687.5)"><path d="M0,-5.2 L5.2,0 L0,5.2 L-5.2,0 Z" fill="#33E5F0" stroke="#000" stroke-width="1.1" stroke-linejoin="round"/><path d="M0,-5.2 L-5.2,0 L0,5.2 Z" fill="#000"/></g>
<g transform="translate(193.4,568)"><path d="M0,-5.2 L5.2,0 L0,5.2 L-5.2,0 Z" fill="#33E5F0" stroke="#000" stroke-width="1.1" stroke-linejoin="round"/><path d="M0,-5.2 L-5.2,0 L0,5.2 Z" fill="#000"/></g>
<g transform="translate(193,604.4)"><path d="M0,-5.2 L5.2,0 L0,5.2 L-5.2,0 Z" fill="#33E5F0" stroke="#000" stroke-width="1.1" stroke-linejoin="round"/><path d="M0,-5.2 L-5.2,0 L0,5.2 Z" fill="#000"/></g>
<g transform="translate(191.9,620.1)"><path d="M0,-5.2 L5.2,0 L0,5.2 L-5.2,0 Z" fill="#33E5F0" stroke="#000" stroke-width="1.1" stroke-linejoin="round"/><path d="M0,-5.2 L-5.2,0 L0,5.2 Z" fill="#000"/></g>
<g transform="translate(189.5,661.9)"><path d="M0,-5.2 L5.2,0 L0,5.2 L-5.2,0 Z" fill="#33E5F0" stroke="#000" stroke-width="1.1" stroke-linejoin="round"/><path d="M0,-5.2 L-5.2,0 L0,5.2 Z" fill="#000"/></g>
<g transform="translate(188.7,675.5)"><path d="M0,-5.2 L5.2,0 L0,5.2 L-5.2,0 Z" fill="#33E5F0" stroke="#000" stroke-width="1.1" stroke-linejoin="round"/><path d="M0,-5.2 L-5.2,0 L0,5.2 Z" fill="#000"/></g>
<g transform="translate(187.9,694)"><path d="M0,-5.2 L5.2,0 L0,5.2 L-5.2,0 Z" fill="#33E5F0" stroke="#000" stroke-width="1.1" stroke-linejoin="round"/><path d="M0,-5.2 L-5.2,0 L0,5.2 Z" fill="#000"/></g>
<g transform="translate(186.3,686.7)"><path d="M0,-5.2 L5.2,0 L0,5.2 L-5.2,0 Z" fill="#33E5F0" stroke="#000" stroke-width="1.1" stroke-linejoin="round"/><path d="M0,-5.2 L-5.2,0 L0,5.2 Z" fill="#000"/></g>
<g transform="translate(181.5,683.5)"><path d="M0,-5.2 L5.2,0 L0,5.2 L-5.2,0 Z" fill="#33E5F0" stroke="#000" stroke-width="1.1" stroke-linejoin="round"/><path d="M0,-5.2 L-5.2,0 L0,5.2 Z" fill="#000"/></g>
<g transform="translate(179.9,695.6)"><path d="M0,-5.2 L5.2,0 L0,5.2 L-5.2,0 Z" fill="#33E5F0" stroke="#000" stroke-width="1.1" stroke-linejoin="round"/><path d="M0,-5.2 L-5.2,0 L0,5.2 Z" fill="#000"/></g>
<g transform="translate(175.1,695.6)"><path d="M0,-5.2 L5.2,0 L0,5.2 L-5.2,0 Z" fill="#33E5F0" stroke="#000" stroke-width="1.1" stroke-linejoin="round"/><path d="M0,-5.2 L-5.2,0 L0,5.2 Z" fill="#000"/></g>
<g transform="translate(171.1,693.2)"><path d="M0,-5.2 L5.2,0 L0,5.2 L-5.2,0 Z" fill="#33E5F0" stroke="#000" stroke-width="1.1" stroke-linejoin="round"/><path d="M0,-5.2 L-5.2,0 L0,5.2 Z" fill="#000"/></g>
<path d="M262.7,632.5 H289.4 M276,632.5 V710.6 M262.7,710.6 H289.4" stroke="#F23C3C" stroke-width="2" fill="none"/>
<g transform="translate(254.6,694.3)"><path d="M0,-4.6 L4.9,4.9 L-4.9,4.9 Z" fill="#000" stroke="#000" stroke-width="1.1" stroke-linejoin="round"/><path d="M0,-4 L0,4.3 L-4.1,4.3 Z" fill="#F23C3C"/></g>
<g transform="translate(257.9,694.5)"><path d="M0,-4.6 L4.9,4.9 L-4.9,4.9 Z" fill="#000" stroke="#000" stroke-width="1.1" stroke-linejoin="round"/><path d="M0,-4 L0,4.3 L-4.1,4.3 Z" fill="#F23C3C"/></g>
<g transform="translate(260.6,694.5)"><path d="M0,-4.6 L4.9,4.9 L-4.9,4.9 Z" fill="#000" stroke="#000" stroke-width="1.1" stroke-linejoin="round"/><path d="M0,-4 L0,4.3 L-4.1,4.3 Z" fill="#F23C3C"/></g>
<g transform="translate(263,694)"><path d="M0,-4.6 L4.9,4.9 L-4.9,4.9 Z" fill="#000" stroke="#000" stroke-width="1.1" stroke-linejoin="round"/><path d="M0,-4 L0,4.3 L-4.1,4.3 Z" fill="#F23C3C"/></g>
<g transform="translate(263.8,681.7)"><path d="M0,-4.6 L4.9,4.9 L-4.9,4.9 Z" fill="#000" stroke="#000" stroke-width="1.1" stroke-linejoin="round"/><path d="M0,-4 L0,4.3 L-4.1,4.3 Z" fill="#F23C3C"/></g>
<g transform="translate(266.6,691.3)"><path d="M0,-4.6 L4.9,4.9 L-4.9,4.9 Z" fill="#000" stroke="#000" stroke-width="1.1" stroke-linejoin="round"/><path d="M0,-4 L0,4.3 L-4.1,4.3 Z" fill="#F23C3C"/></g>
<g transform="translate(268.9,694.5)"><path d="M0,-4.6 L4.9,4.9 L-4.9,4.9 Z" fill="#000" stroke="#000" stroke-width="1.1" stroke-linejoin="round"/><path d="M0,-4 L0,4.3 L-4.1,4.3 Z" fill="#F23C3C"/></g>
<g transform="translate(269.8,670.7)"><path d="M0,-4.6 L4.9,4.9 L-4.9,4.9 Z" fill="#000" stroke="#000" stroke-width="1.1" stroke-linejoin="round"/><path d="M0,-4 L0,4.3 L-4.1,4.3 Z" fill="#F23C3C"/></g>
<g transform="translate(270,687)"><path d="M0,-4.6 L4.9,4.9 L-4.9,4.9 Z" fill="#000" stroke="#000" stroke-width="1.1" stroke-linejoin="round"/><path d="M0,-4 L0,4.3 L-4.1,4.3 Z" fill="#F23C3C"/></g>
<g transform="translate(272.5,674.3)"><path d="M0,-4.6 L4.9,4.9 L-4.9,4.9 Z" fill="#000" stroke="#000" stroke-width="1.1" stroke-linejoin="round"/><path d="M0,-4 L0,4.3 L-4.1,4.3 Z" fill="#F23C3C"/></g>
<g transform="translate(272.5,694.5)"><path d="M0,-4.6 L4.9,4.9 L-4.9,4.9 Z" fill="#000" stroke="#000" stroke-width="1.1" stroke-linejoin="round"/><path d="M0,-4 L0,4.3 L-4.1,4.3 Z" fill="#F23C3C"/></g>
<g transform="translate(274.8,692.2)"><path d="M0,-4.6 L4.9,4.9 L-4.9,4.9 Z" fill="#000" stroke="#000" stroke-width="1.1" stroke-linejoin="round"/><path d="M0,-4 L0,4.3 L-4.1,4.3 Z" fill="#F23C3C"/></g>
<g transform="translate(276,541.7)"><path d="M0,-4.6 L4.9,4.9 L-4.9,4.9 Z" fill="#000" stroke="#000" stroke-width="1.1" stroke-linejoin="round"/><path d="M0,-4 L0,4.3 L-4.1,4.3 Z" fill="#F23C3C"/></g>
<g transform="translate(276,584)"><path d="M0,-4.6 L4.9,4.9 L-4.9,4.9 Z" fill="#000" stroke="#000" stroke-width="1.1" stroke-linejoin="round"/><path d="M0,-4 L0,4.3 L-4.1,4.3 Z" fill="#F23C3C"/></g>
<g transform="translate(276,615.6)"><path d="M0,-4.6 L4.9,4.9 L-4.9,4.9 Z" fill="#000" stroke="#000" stroke-width="1.1" stroke-linejoin="round"/><path d="M0,-4 L0,4.3 L-4.1,4.3 Z" fill="#F23C3C"/></g>
<g transform="translate(276.7,684)"><path d="M0,-4.6 L4.9,4.9 L-4.9,4.9 Z" fill="#000" stroke="#000" stroke-width="1.1" stroke-linejoin="round"/><path d="M0,-4 L0,4.3 L-4.1,4.3 Z" fill="#F23C3C"/></g>
<g transform="translate(278,694)"><path d="M0,-4.6 L4.9,4.9 L-4.9,4.9 Z" fill="#000" stroke="#000" stroke-width="1.1" stroke-linejoin="round"/><path d="M0,-4 L0,4.3 L-4.1,4.3 Z" fill="#F23C3C"/></g>
<g transform="translate(279,665.6)"><path d="M0,-4.6 L4.9,4.9 L-4.9,4.9 Z" fill="#000" stroke="#000" stroke-width="1.1" stroke-linejoin="round"/><path d="M0,-4 L0,4.3 L-4.1,4.3 Z" fill="#F23C3C"/></g>
<g transform="translate(280.4,691.8)"><path d="M0,-4.6 L4.9,4.9 L-4.9,4.9 Z" fill="#000" stroke="#000" stroke-width="1.1" stroke-linejoin="round"/><path d="M0,-4 L0,4.3 L-4.1,4.3 Z" fill="#F23C3C"/></g>
<g transform="translate(282.2,665.1)"><path d="M0,-4.6 L4.9,4.9 L-4.9,4.9 Z" fill="#000" stroke="#000" stroke-width="1.1" stroke-linejoin="round"/><path d="M0,-4 L0,4.3 L-4.1,4.3 Z" fill="#F23C3C"/></g>
<g transform="translate(283,688)"><path d="M0,-4.6 L4.9,4.9 L-4.9,4.9 Z" fill="#000" stroke="#000" stroke-width="1.1" stroke-linejoin="round"/><path d="M0,-4 L0,4.3 L-4.1,4.3 Z" fill="#F23C3C"/></g>
<g transform="translate(284.5,691.8)"><path d="M0,-4.6 L4.9,4.9 L-4.9,4.9 Z" fill="#000" stroke="#000" stroke-width="1.1" stroke-linejoin="round"/><path d="M0,-4 L0,4.3 L-4.1,4.3 Z" fill="#F23C3C"/></g>
<g transform="translate(287,694)"><path d="M0,-4.6 L4.9,4.9 L-4.9,4.9 Z" fill="#000" stroke="#000" stroke-width="1.1" stroke-linejoin="round"/><path d="M0,-4 L0,4.3 L-4.1,4.3 Z" fill="#F23C3C"/></g>
<g transform="translate(289,682)"><path d="M0,-4.6 L4.9,4.9 L-4.9,4.9 Z" fill="#000" stroke="#000" stroke-width="1.1" stroke-linejoin="round"/><path d="M0,-4 L0,4.3 L-4.1,4.3 Z" fill="#F23C3C"/></g>
<g transform="translate(291.4,686.7)"><path d="M0,-4.6 L4.9,4.9 L-4.9,4.9 Z" fill="#000" stroke="#000" stroke-width="1.1" stroke-linejoin="round"/><path d="M0,-4 L0,4.3 L-4.1,4.3 Z" fill="#F23C3C"/></g>
<g transform="translate(292.8,695)"><path d="M0,-4.6 L4.9,4.9 L-4.9,4.9 Z" fill="#000" stroke="#000" stroke-width="1.1" stroke-linejoin="round"/><path d="M0,-4 L0,4.3 L-4.1,4.3 Z" fill="#F23C3C"/></g>
<g transform="translate(297.8,694.5)"><path d="M0,-4.6 L4.9,4.9 L-4.9,4.9 Z" fill="#000" stroke="#000" stroke-width="1.1" stroke-linejoin="round"/><path d="M0,-4 L0,4.3 L-4.1,4.3 Z" fill="#F23C3C"/></g>
<line x1="248.6" y1="671.6" x2="303.5" y2="671.6" stroke="#000" stroke-width="2.3"/>
<path d="M470.9,661.9 H497.6 M484.3,661.9 V717.8 M470.9,717.8 H497.6" stroke="#28EC28" stroke-width="2" fill="none"/>
<line x1="456.9" y1="689.6" x2="511.7" y2="689.6" stroke="#000" stroke-width="2.3"/>
<g transform="translate(463.5,696.9)"><circle r="4.85" fill="#28EC28" stroke="#000" stroke-width="1.4"/><path d="M0,-4.9 A4.9,4.9 0 0 0 0,4.9 Z" fill="#000"/></g>
<g transform="translate(464.3,686.7)"><circle r="4.85" fill="#28EC28" stroke="#000" stroke-width="1.4"/><path d="M0,-4.9 A4.9,4.9 0 0 0 0,4.9 Z" fill="#000"/></g>
<g transform="translate(470.2,691.1)"><circle r="4.85" fill="#28EC28" stroke="#000" stroke-width="1.4"/><path d="M0,-4.9 A4.9,4.9 0 0 0 0,4.9 Z" fill="#000"/></g>
<g transform="translate(470.2,696.9)"><circle r="4.85" fill="#28EC28" stroke="#000" stroke-width="1.4"/><path d="M0,-4.9 A4.9,4.9 0 0 0 0,4.9 Z" fill="#000"/></g>
<g transform="translate(474.6,696.9)"><circle r="4.85" fill="#28EC28" stroke="#000" stroke-width="1.4"/><path d="M0,-4.9 A4.9,4.9 0 0 0 0,4.9 Z" fill="#000"/></g>
<g transform="translate(479.1,686.7)"><circle r="4.85" fill="#28EC28" stroke="#000" stroke-width="1.4"/><path d="M0,-4.9 A4.9,4.9 0 0 0 0,4.9 Z" fill="#000"/></g>
<g transform="translate(480.6,696.9)"><circle r="4.85" fill="#28EC28" stroke="#000" stroke-width="1.4"/><path d="M0,-4.9 A4.9,4.9 0 0 0 0,4.9 Z" fill="#000"/></g>
<g transform="translate(483.5,676.3)"><circle r="4.85" fill="#28EC28" stroke="#000" stroke-width="1.4"/><path d="M0,-4.9 A4.9,4.9 0 0 0 0,4.9 Z" fill="#000"/></g>
<g transform="translate(484,507.6)"><circle r="4.85" fill="#28EC28" stroke="#000" stroke-width="1.4"/><path d="M0,-4.9 A4.9,4.9 0 0 0 0,4.9 Z" fill="#000"/></g>
<g transform="translate(484.3,603)"><circle r="4.85" fill="#28EC28" stroke="#000" stroke-width="1.4"/><path d="M0,-4.9 A4.9,4.9 0 0 0 0,4.9 Z" fill="#000"/></g>
<g transform="translate(485,696.9)"><circle r="4.85" fill="#28EC28" stroke="#000" stroke-width="1.4"/><path d="M0,-4.9 A4.9,4.9 0 0 0 0,4.9 Z" fill="#000"/></g>
<g transform="translate(486.5,676.3)"><circle r="4.85" fill="#28EC28" stroke="#000" stroke-width="1.4"/><path d="M0,-4.9 A4.9,4.9 0 0 0 0,4.9 Z" fill="#000"/></g>
<g transform="translate(489.4,686.7)"><circle r="4.85" fill="#28EC28" stroke="#000" stroke-width="1.4"/><path d="M0,-4.9 A4.9,4.9 0 0 0 0,4.9 Z" fill="#000"/></g>
<g transform="translate(495.4,696.9)"><circle r="4.85" fill="#28EC28" stroke="#000" stroke-width="1.4"/><path d="M0,-4.9 A4.9,4.9 0 0 0 0,4.9 Z" fill="#000"/></g>
<g transform="translate(499.8,691.1)"><circle r="4.85" fill="#28EC28" stroke="#000" stroke-width="1.4"/><path d="M0,-4.9 A4.9,4.9 0 0 0 0,4.9 Z" fill="#000"/></g>
<g transform="translate(501.3,696.9)"><circle r="4.85" fill="#28EC28" stroke="#000" stroke-width="1.4"/><path d="M0,-4.9 A4.9,4.9 0 0 0 0,4.9 Z" fill="#000"/></g>
<g transform="translate(505.7,691.1)"><circle r="4.85" fill="#28EC28" stroke="#000" stroke-width="1.4"/><path d="M0,-4.9 A4.9,4.9 0 0 0 0,4.9 Z" fill="#000"/></g>
<g transform="translate(505.7,696.9)"><circle r="4.85" fill="#28EC28" stroke="#000" stroke-width="1.4"/><path d="M0,-4.9 A4.9,4.9 0 0 0 0,4.9 Z" fill="#000"/></g>
<path d="M553.7,669.2 H580.8 M567.2,669.2 V699.1 M553.7,699.1 H580.8" stroke="#33E5F0" stroke-width="2" fill="none"/>
<line x1="540.2" y1="683.8" x2="595" y2="683.8" stroke="#000" stroke-width="2.3"/>
<g transform="translate(589.9,697.7)"><path d="M0,-5.2 L5.2,0 L0,5.2 L-5.2,0 Z" fill="#33E5F0" stroke="#000" stroke-width="1.1" stroke-linejoin="round"/><path d="M0,-5.2 L-5.2,0 L0,5.2 Z" fill="#000"/></g>
<g transform="translate(585.4,697.7)"><path d="M0,-5.2 L5.2,0 L0,5.2 L-5.2,0 Z" fill="#33E5F0" stroke="#000" stroke-width="1.1" stroke-linejoin="round"/><path d="M0,-5.2 L-5.2,0 L0,5.2 Z" fill="#000"/></g>
<g transform="translate(582.5,686.7)"><path d="M0,-5.2 L5.2,0 L0,5.2 L-5.2,0 Z" fill="#33E5F0" stroke="#000" stroke-width="1.1" stroke-linejoin="round"/><path d="M0,-5.2 L-5.2,0 L0,5.2 Z" fill="#000"/></g>
<g transform="translate(579.7,697.7)"><path d="M0,-5.2 L5.2,0 L0,5.2 L-5.2,0 Z" fill="#33E5F0" stroke="#000" stroke-width="1.1" stroke-linejoin="round"/><path d="M0,-5.2 L-5.2,0 L0,5.2 Z" fill="#000"/></g>
<g transform="translate(579.2,675.9)"><path d="M0,-5.2 L5.2,0 L0,5.2 L-5.2,0 Z" fill="#33E5F0" stroke="#000" stroke-width="1.1" stroke-linejoin="round"/><path d="M0,-5.2 L-5.2,0 L0,5.2 Z" fill="#000"/></g>
<g transform="translate(576.3,681.6)"><path d="M0,-5.2 L5.2,0 L0,5.2 L-5.2,0 Z" fill="#33E5F0" stroke="#000" stroke-width="1.1" stroke-linejoin="round"/><path d="M0,-5.2 L-5.2,0 L0,5.2 Z" fill="#000"/></g>
<g transform="translate(576.3,697.7)"><path d="M0,-5.2 L5.2,0 L0,5.2 L-5.2,0 Z" fill="#33E5F0" stroke="#000" stroke-width="1.1" stroke-linejoin="round"/><path d="M0,-5.2 L-5.2,0 L0,5.2 Z" fill="#000"/></g>
<g transform="translate(572.9,671.4)"><path d="M0,-5.2 L5.2,0 L0,5.2 L-5.2,0 Z" fill="#33E5F0" stroke="#000" stroke-width="1.1" stroke-linejoin="round"/><path d="M0,-5.2 L-5.2,0 L0,5.2 Z" fill="#000"/></g>
<g transform="translate(572.4,686.7)"><path d="M0,-5.2 L5.2,0 L0,5.2 L-5.2,0 Z" fill="#33E5F0" stroke="#000" stroke-width="1.1" stroke-linejoin="round"/><path d="M0,-5.2 L-5.2,0 L0,5.2 Z" fill="#000"/></g>
<g transform="translate(570.7,675.9)"><path d="M0,-5.2 L5.2,0 L0,5.2 L-5.2,0 Z" fill="#33E5F0" stroke="#000" stroke-width="1.1" stroke-linejoin="round"/><path d="M0,-5.2 L-5.2,0 L0,5.2 Z" fill="#000"/></g>
<g transform="translate(569,665.8)"><path d="M0,-5.2 L5.2,0 L0,5.2 L-5.2,0 Z" fill="#33E5F0" stroke="#000" stroke-width="1.1" stroke-linejoin="round"/><path d="M0,-5.2 L-5.2,0 L0,5.2 Z" fill="#000"/></g>
<g transform="translate(567.5,634.3)"><path d="M0,-5.2 L5.2,0 L0,5.2 L-5.2,0 Z" fill="#33E5F0" stroke="#000" stroke-width="1.1" stroke-linejoin="round"/><path d="M0,-5.2 L-5.2,0 L0,5.2 Z" fill="#000"/></g>
<g transform="translate(566.7,691.8)"><path d="M0,-5.2 L5.2,0 L0,5.2 L-5.2,0 Z" fill="#33E5F0" stroke="#000" stroke-width="1.1" stroke-linejoin="round"/><path d="M0,-5.2 L-5.2,0 L0,5.2 Z" fill="#000"/></g>
<g transform="translate(566.2,675.4)"><path d="M0,-5.2 L5.2,0 L0,5.2 L-5.2,0 Z" fill="#33E5F0" stroke="#000" stroke-width="1.1" stroke-linejoin="round"/><path d="M0,-5.2 L-5.2,0 L0,5.2 Z" fill="#000"/></g>
<g transform="translate(565.6,660.1)"><path d="M0,-5.2 L5.2,0 L0,5.2 L-5.2,0 Z" fill="#33E5F0" stroke="#000" stroke-width="1.1" stroke-linejoin="round"/><path d="M0,-5.2 L-5.2,0 L0,5.2 Z" fill="#000"/></g>
<g transform="translate(562.8,697.7)"><path d="M0,-5.2 L5.2,0 L0,5.2 L-5.2,0 Z" fill="#33E5F0" stroke="#000" stroke-width="1.1" stroke-linejoin="round"/><path d="M0,-5.2 L-5.2,0 L0,5.2 Z" fill="#000"/></g>
<g transform="translate(560.5,681.6)"><path d="M0,-5.2 L5.2,0 L0,5.2 L-5.2,0 Z" fill="#33E5F0" stroke="#000" stroke-width="1.1" stroke-linejoin="round"/><path d="M0,-5.2 L-5.2,0 L0,5.2 Z" fill="#000"/></g>
<g transform="translate(560,687.8)"><path d="M0,-5.2 L5.2,0 L0,5.2 L-5.2,0 Z" fill="#33E5F0" stroke="#000" stroke-width="1.1" stroke-linejoin="round"/><path d="M0,-5.2 L-5.2,0 L0,5.2 Z" fill="#000"/></g>
<g transform="translate(556,681.6)"><path d="M0,-5.2 L5.2,0 L0,5.2 L-5.2,0 Z" fill="#33E5F0" stroke="#000" stroke-width="1.1" stroke-linejoin="round"/><path d="M0,-5.2 L-5.2,0 L0,5.2 Z" fill="#000"/></g>
<g transform="translate(556,686.7)"><path d="M0,-5.2 L5.2,0 L0,5.2 L-5.2,0 Z" fill="#33E5F0" stroke="#000" stroke-width="1.1" stroke-linejoin="round"/><path d="M0,-5.2 L-5.2,0 L0,5.2 Z" fill="#000"/></g>
<g transform="translate(553.2,697.7)"><path d="M0,-5.2 L5.2,0 L0,5.2 L-5.2,0 Z" fill="#33E5F0" stroke="#000" stroke-width="1.1" stroke-linejoin="round"/><path d="M0,-5.2 L-5.2,0 L0,5.2 Z" fill="#000"/></g>
<g transform="translate(550.3,697.7)"><path d="M0,-5.2 L5.2,0 L0,5.2 L-5.2,0 Z" fill="#33E5F0" stroke="#000" stroke-width="1.1" stroke-linejoin="round"/><path d="M0,-5.2 L-5.2,0 L0,5.2 Z" fill="#000"/></g>
<g transform="translate(546.9,697.7)"><path d="M0,-5.2 L5.2,0 L0,5.2 L-5.2,0 Z" fill="#33E5F0" stroke="#000" stroke-width="1.1" stroke-linejoin="round"/><path d="M0,-5.2 L-5.2,0 L0,5.2 Z" fill="#000"/></g>
<path d="M636.9,667.5 H664 M650.2,667.5 V703.3 M636.9,703.3 H664" stroke="#F23C3C" stroke-width="2" fill="none"/>
<g transform="translate(629,697.2)"><path d="M0,-4.6 L4.9,4.9 L-4.9,4.9 Z" fill="#000" stroke="#000" stroke-width="1.1" stroke-linejoin="round"/><path d="M0,-4 L0,4.3 L-4.1,4.3 Z" fill="#F23C3C"/></g>
<g transform="translate(632.3,697.2)"><path d="M0,-4.6 L4.9,4.9 L-4.9,4.9 Z" fill="#000" stroke="#000" stroke-width="1.1" stroke-linejoin="round"/><path d="M0,-4 L0,4.3 L-4.1,4.3 Z" fill="#F23C3C"/></g>
<g transform="translate(634.6,687.2)"><path d="M0,-4.6 L4.9,4.9 L-4.9,4.9 Z" fill="#000" stroke="#000" stroke-width="1.1" stroke-linejoin="round"/><path d="M0,-4 L0,4.3 L-4.1,4.3 Z" fill="#F23C3C"/></g>
<g transform="translate(636.9,687.2)"><path d="M0,-4.6 L4.9,4.9 L-4.9,4.9 Z" fill="#000" stroke="#000" stroke-width="1.1" stroke-linejoin="round"/><path d="M0,-4 L0,4.3 L-4.1,4.3 Z" fill="#F23C3C"/></g>
<g transform="translate(640.8,691.3)"><path d="M0,-4.6 L4.9,4.9 L-4.9,4.9 Z" fill="#000" stroke="#000" stroke-width="1.1" stroke-linejoin="round"/><path d="M0,-4 L0,4.3 L-4.1,4.3 Z" fill="#F23C3C"/></g>
<g transform="translate(643.1,697.2)"><path d="M0,-4.6 L4.9,4.9 L-4.9,4.9 Z" fill="#000" stroke="#000" stroke-width="1.1" stroke-linejoin="round"/><path d="M0,-4 L0,4.3 L-4.1,4.3 Z" fill="#F23C3C"/></g>
<g transform="translate(644.8,675.4)"><path d="M0,-4.6 L4.9,4.9 L-4.9,4.9 Z" fill="#000" stroke="#000" stroke-width="1.1" stroke-linejoin="round"/><path d="M0,-4 L0,4.3 L-4.1,4.3 Z" fill="#F23C3C"/></g>
<g transform="translate(645.3,691.3)"><path d="M0,-4.6 L4.9,4.9 L-4.9,4.9 Z" fill="#000" stroke="#000" stroke-width="1.1" stroke-linejoin="round"/><path d="M0,-4 L0,4.3 L-4.1,4.3 Z" fill="#F23C3C"/></g>
<g transform="translate(647.6,673.1)"><path d="M0,-4.6 L4.9,4.9 L-4.9,4.9 Z" fill="#000" stroke="#000" stroke-width="1.1" stroke-linejoin="round"/><path d="M0,-4 L0,4.3 L-4.1,4.3 Z" fill="#F23C3C"/></g>
<g transform="translate(649.3,697.2)"><path d="M0,-4.6 L4.9,4.9 L-4.9,4.9 Z" fill="#000" stroke="#000" stroke-width="1.1" stroke-linejoin="round"/><path d="M0,-4 L0,4.3 L-4.1,4.3 Z" fill="#F23C3C"/></g>
<g transform="translate(650.4,655.6)"><path d="M0,-4.6 L4.9,4.9 L-4.9,4.9 Z" fill="#000" stroke="#000" stroke-width="1.1" stroke-linejoin="round"/><path d="M0,-4 L0,4.3 L-4.1,4.3 Z" fill="#F23C3C"/></g>
<g transform="translate(650.4,666.9)"><path d="M0,-4.6 L4.9,4.9 L-4.9,4.9 Z" fill="#000" stroke="#000" stroke-width="1.1" stroke-linejoin="round"/><path d="M0,-4 L0,4.3 L-4.1,4.3 Z" fill="#F23C3C"/></g>
<g transform="translate(650.4,691.3)"><path d="M0,-4.6 L4.9,4.9 L-4.9,4.9 Z" fill="#000" stroke="#000" stroke-width="1.1" stroke-linejoin="round"/><path d="M0,-4 L0,4.3 L-4.1,4.3 Z" fill="#F23C3C"/></g>
<g transform="translate(650.5,623.4)"><path d="M0,-4.6 L4.9,4.9 L-4.9,4.9 Z" fill="#000" stroke="#000" stroke-width="1.1" stroke-linejoin="round"/><path d="M0,-4 L0,4.3 L-4.1,4.3 Z" fill="#F23C3C"/></g>
<g transform="translate(652.7,673.7)"><path d="M0,-4.6 L4.9,4.9 L-4.9,4.9 Z" fill="#000" stroke="#000" stroke-width="1.1" stroke-linejoin="round"/><path d="M0,-4 L0,4.3 L-4.1,4.3 Z" fill="#F23C3C"/></g>
<g transform="translate(654.4,689)"><path d="M0,-4.6 L4.9,4.9 L-4.9,4.9 Z" fill="#000" stroke="#000" stroke-width="1.1" stroke-linejoin="round"/><path d="M0,-4 L0,4.3 L-4.1,4.3 Z" fill="#F23C3C"/></g>
<g transform="translate(656.1,675.9)"><path d="M0,-4.6 L4.9,4.9 L-4.9,4.9 Z" fill="#000" stroke="#000" stroke-width="1.1" stroke-linejoin="round"/><path d="M0,-4 L0,4.3 L-4.1,4.3 Z" fill="#F23C3C"/></g>
<g transform="translate(659.5,691.3)"><path d="M0,-4.6 L4.9,4.9 L-4.9,4.9 Z" fill="#000" stroke="#000" stroke-width="1.1" stroke-linejoin="round"/><path d="M0,-4 L0,4.3 L-4.1,4.3 Z" fill="#F23C3C"/></g>
<g transform="translate(661.7,697.2)"><path d="M0,-4.6 L4.9,4.9 L-4.9,4.9 Z" fill="#000" stroke="#000" stroke-width="1.1" stroke-linejoin="round"/><path d="M0,-4 L0,4.3 L-4.1,4.3 Z" fill="#F23C3C"/></g>
<g transform="translate(665.7,691.3)"><path d="M0,-4.6 L4.9,4.9 L-4.9,4.9 Z" fill="#000" stroke="#000" stroke-width="1.1" stroke-linejoin="round"/><path d="M0,-4 L0,4.3 L-4.1,4.3 Z" fill="#F23C3C"/></g>
<g transform="translate(668,691.3)"><path d="M0,-4.6 L4.9,4.9 L-4.9,4.9 Z" fill="#000" stroke="#000" stroke-width="1.1" stroke-linejoin="round"/><path d="M0,-4 L0,4.3 L-4.1,4.3 Z" fill="#F23C3C"/></g>
<g transform="translate(671.9,697.2)"><path d="M0,-4.6 L4.9,4.9 L-4.9,4.9 Z" fill="#000" stroke="#000" stroke-width="1.1" stroke-linejoin="round"/><path d="M0,-4 L0,4.3 L-4.1,4.3 Z" fill="#F23C3C"/></g>
<line x1="622.7" y1="685" x2="678.1" y2="685" stroke="#000" stroke-width="2.3"/>
</svg></body></html>
